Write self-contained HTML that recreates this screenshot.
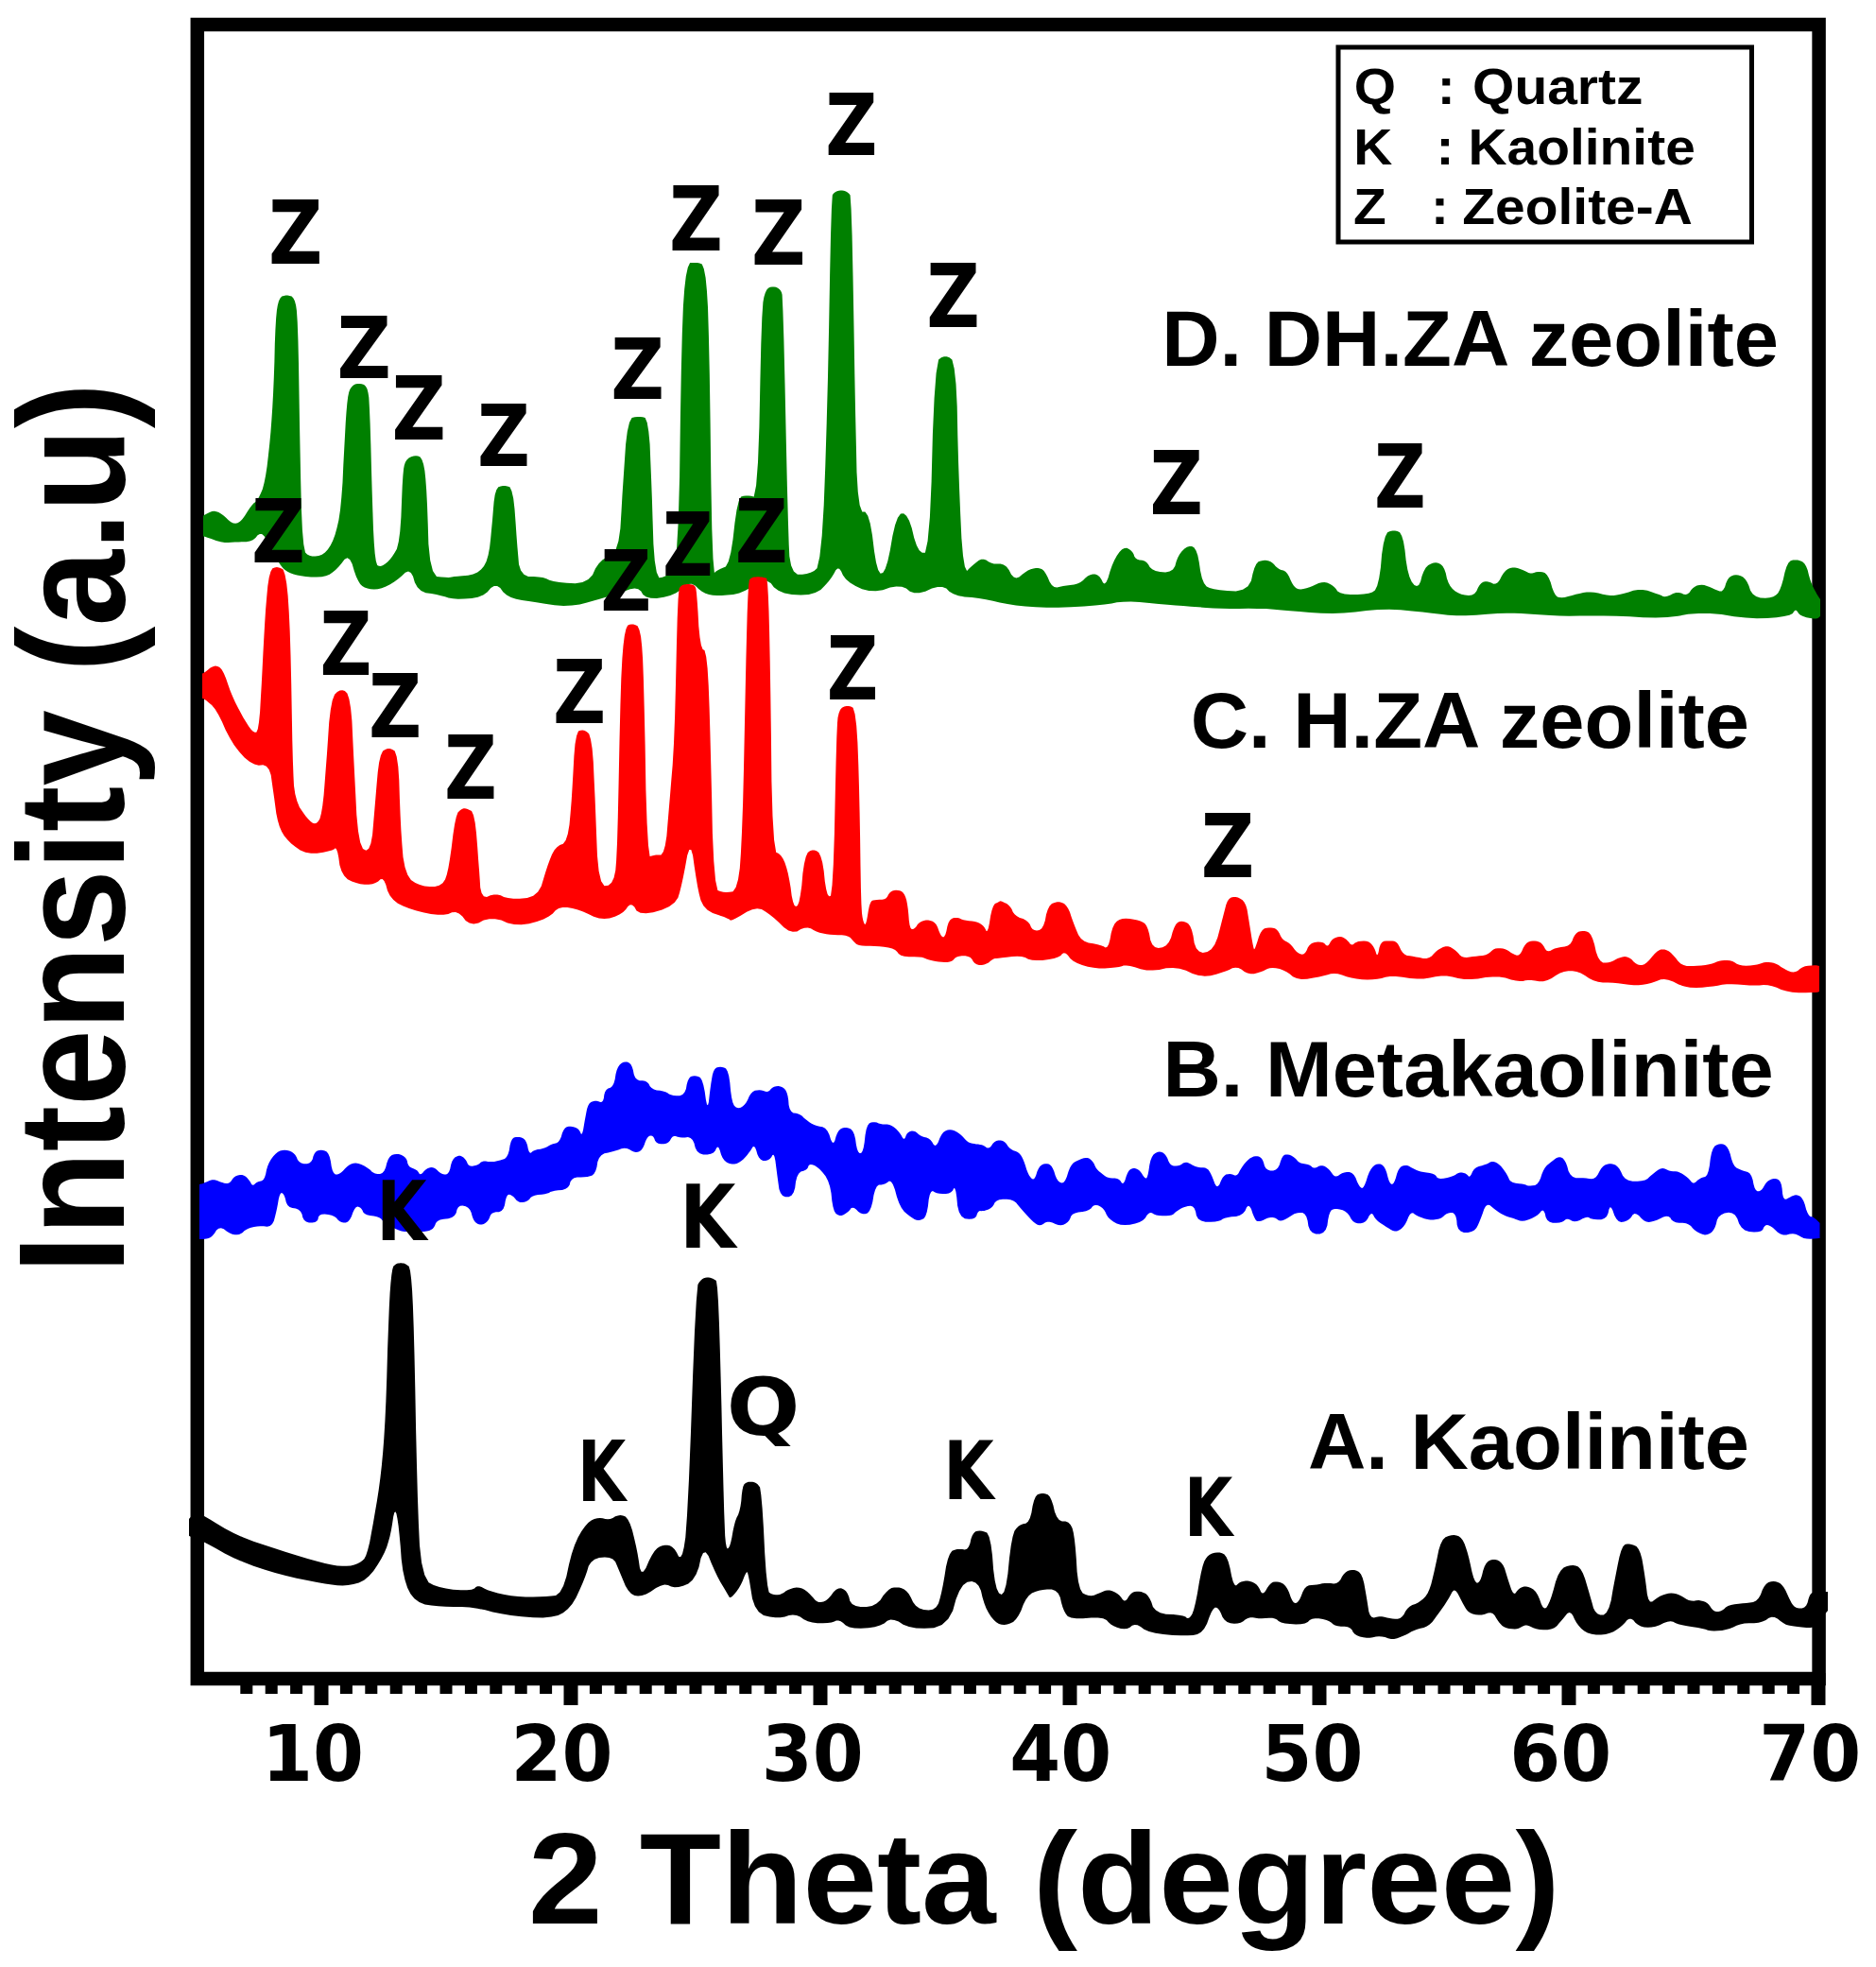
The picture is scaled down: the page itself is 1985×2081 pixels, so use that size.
<!DOCTYPE html>
<html><head><meta charset="utf-8"><title>XRD patterns</title><style>
html,body{margin:0;padding:0;background:#fff;}
svg{display:block;}
.ls{font-family:"Liberation Sans",Arial,sans-serif;font-weight:bold;}
.dv{font-family:"DejaVu Sans",sans-serif;font-weight:bold;}
</style></head><body>
<svg xmlns="http://www.w3.org/2000/svg" width="1985" height="2081" viewBox="0 0 1985 2081">
<rect width="1985" height="2081" fill="#fff"/>
<g fill="#000">
<rect x="254.3" y="1770" width="13" height="22"/>
<rect x="280.7" y="1770" width="13" height="22"/>
<rect x="307.1" y="1770" width="13" height="22"/>
<rect x="359.9" y="1770" width="13" height="22"/>
<rect x="386.3" y="1770" width="13" height="22"/>
<rect x="412.7" y="1770" width="13" height="22"/>
<rect x="439.1" y="1770" width="13" height="22"/>
<rect x="465.5" y="1770" width="13" height="22"/>
<rect x="491.9" y="1770" width="13" height="22"/>
<rect x="518.3" y="1770" width="13" height="22"/>
<rect x="544.7" y="1770" width="13" height="22"/>
<rect x="571.1" y="1770" width="13" height="22"/>
<rect x="623.9" y="1770" width="13" height="22"/>
<rect x="650.3" y="1770" width="13" height="22"/>
<rect x="676.7" y="1770" width="13" height="22"/>
<rect x="703.1" y="1770" width="13" height="22"/>
<rect x="729.5" y="1770" width="13" height="22"/>
<rect x="755.9" y="1770" width="13" height="22"/>
<rect x="782.3" y="1770" width="13" height="22"/>
<rect x="808.7" y="1770" width="13" height="22"/>
<rect x="835.1" y="1770" width="13" height="22"/>
<rect x="887.9" y="1770" width="13" height="22"/>
<rect x="914.3" y="1770" width="13" height="22"/>
<rect x="940.7" y="1770" width="13" height="22"/>
<rect x="967.1" y="1770" width="13" height="22"/>
<rect x="993.5" y="1770" width="13" height="22"/>
<rect x="1019.9" y="1770" width="13" height="22"/>
<rect x="1046.3" y="1770" width="13" height="22"/>
<rect x="1072.7" y="1770" width="13" height="22"/>
<rect x="1099.1" y="1770" width="13" height="22"/>
<rect x="1151.9" y="1770" width="13" height="22"/>
<rect x="1178.3" y="1770" width="13" height="22"/>
<rect x="1204.7" y="1770" width="13" height="22"/>
<rect x="1231.1" y="1770" width="13" height="22"/>
<rect x="1257.5" y="1770" width="13" height="22"/>
<rect x="1283.9" y="1770" width="13" height="22"/>
<rect x="1310.3" y="1770" width="13" height="22"/>
<rect x="1336.7" y="1770" width="13" height="22"/>
<rect x="1363.1" y="1770" width="13" height="22"/>
<rect x="1415.9" y="1770" width="13" height="22"/>
<rect x="1442.3" y="1770" width="13" height="22"/>
<rect x="1468.7" y="1770" width="13" height="22"/>
<rect x="1495.1" y="1770" width="13" height="22"/>
<rect x="1521.5" y="1770" width="13" height="22"/>
<rect x="1547.9" y="1770" width="13" height="22"/>
<rect x="1574.3" y="1770" width="13" height="22"/>
<rect x="1600.7" y="1770" width="13" height="22"/>
<rect x="1627.1" y="1770" width="13" height="22"/>
<rect x="1679.9" y="1770" width="13" height="22"/>
<rect x="1706.3" y="1770" width="13" height="22"/>
<rect x="1732.7" y="1770" width="13" height="22"/>
<rect x="1759.1" y="1770" width="13" height="22"/>
<rect x="1785.5" y="1770" width="13" height="22"/>
<rect x="1811.9" y="1770" width="13" height="22"/>
<rect x="1838.3" y="1770" width="13" height="22"/>
<rect x="1864.7" y="1770" width="13" height="22"/>
<rect x="1891.1" y="1770" width="13" height="22"/>
<rect x="332.5" y="1770" width="15" height="34"/>
<rect x="596.5" y="1770" width="15" height="34"/>
<rect x="860.5" y="1770" width="15" height="34"/>
<rect x="1124.5" y="1770" width="15" height="34"/>
<rect x="1388.5" y="1770" width="15" height="34"/>
<rect x="1652.5" y="1770" width="15" height="34"/>
<rect x="1916.5" y="1770" width="15" height="34"/>
</g>
<rect x="208.8" y="26" width="1715.8" height="1750" fill="none" stroke="#000" stroke-width="14.5"/>
<g id="curves">
<path d="M200.0,1607.0 L200.4,1606.6 L201.1,1605.7 L202.2,1604.4 L203.8,1602.6 L205.2,1601.4 L206.8,1600.8 L208.2,1600.8 L209.8,1601.2 L211.1,1601.7 L212.4,1602.2 L213.5,1602.6 L214.4,1603.1 L217.4,1604.7 L222.2,1607.6 L229.1,1611.7 L237.8,1617.0 L247.3,1622.0 L257.4,1626.5 L268.2,1630.7 L279.6,1634.6 L291.1,1638.3 L302.5,1641.9 L313.9,1645.4 L325.4,1648.9 L335.4,1651.7 L343.9,1653.9 L351.1,1655.4 L356.8,1656.4 L362.1,1656.8 L366.8,1656.8 L371.1,1656.4 L374.9,1655.4 L378.2,1654.2 L381.1,1652.8 L383.5,1651.1 L385.4,1649.2 L387.3,1645.4 L389.2,1639.5 L391.2,1631.6 L393.0,1621.6 L394.9,1611.2 L396.8,1600.1 L398.8,1588.5 L400.7,1576.3 L402.4,1563.5 L403.9,1550.2 L405.2,1536.2 L406.3,1521.8 L407.4,1503.6 L408.4,1481.9 L409.3,1456.5 L410.1,1427.6 L411.0,1403.2 L411.8,1383.3 L412.6,1368.1 L413.4,1357.4 L414.3,1349.1 L415.2,1343.2 L416.2,1339.8 L417.3,1338.7 L418.5,1337.8 L419.7,1337.1 L421.0,1336.6 L422.2,1336.4 L423.5,1336.2 L424.8,1336.2 L426.0,1336.4 L427.2,1336.6 L428.5,1337.1 L429.8,1337.8 L431.2,1338.7 L432.7,1339.8 L434.0,1344.6 L435.1,1353.1 L436.1,1365.4 L436.9,1381.4 L437.7,1404.1 L438.5,1433.4 L439.3,1469.5 L440.1,1512.2 L441.0,1550.0 L441.9,1583.2 L442.9,1611.5 L444.0,1635.0 L446.1,1653.2 L449.3,1666.3 L453.6,1674.2 L458.9,1676.9 L465.0,1679.0 L471.8,1680.6 L479.3,1681.7 L487.6,1682.2 L494.1,1682.2 L499.0,1681.7 L502.1,1680.6 L503.5,1679.0 L505.2,1678.2 L507.3,1678.2 L509.6,1679.0 L512.3,1680.6 L516.0,1682.2 L520.8,1683.8 L526.7,1685.4 L533.7,1687.0 L540.9,1688.2 L548.4,1689.0 L556.1,1689.4 L564.1,1689.4 L571.3,1689.3 L577.7,1689.0 L583.3,1688.6 L588.1,1688.1 L592.4,1684.5 L596.1,1677.8 L599.3,1668.1 L602.0,1655.2 L604.9,1644.0 L608.1,1634.4 L611.6,1626.4 L615.3,1620.0 L618.9,1614.9 L622.4,1611.0 L625.7,1608.4 L628.9,1607.1 L632.0,1606.3 L634.9,1606.0 L637.7,1606.3 L640.4,1607.1 L643.1,1607.3 L645.7,1606.9 L648.4,1605.9 L651.1,1604.3 L653.8,1603.4 L656.4,1603.1 L659.1,1603.5 L661.8,1604.5 L664.3,1607.4 L666.7,1612.2 L669.0,1618.9 L671.1,1627.5 L673.0,1635.8 L674.6,1643.8 L675.9,1651.5 L677.0,1659.0 L678.6,1662.7 L680.7,1662.7 L683.4,1659.0 L686.6,1651.5 L689.7,1645.5 L692.6,1641.0 L695.4,1637.9 L698.1,1636.3 L700.8,1635.2 L703.4,1634.7 L706.1,1634.7 L708.8,1635.2 L711.3,1636.7 L713.7,1639.1 L716.0,1642.4 L718.1,1646.7 L720.1,1647.2 L722.0,1644.0 L723.7,1637.1 L725.3,1626.4 L727.0,1602.9 L728.9,1566.6 L730.9,1517.5 L733.1,1455.6 L735.0,1408.5 L736.8,1376.4 L738.4,1359.1 L739.9,1356.6 L741.4,1354.7 L743.0,1353.2 L744.7,1352.2 L746.4,1351.8 L748.1,1351.5 L749.8,1351.5 L751.3,1351.8 L752.8,1352.2 L754.2,1352.8 L755.5,1353.5 L756.8,1354.2 L757.9,1355.1 L759.0,1362.8 L760.0,1377.4 L760.9,1398.9 L761.8,1427.4 L762.6,1456.8 L763.4,1487.3 L764.1,1518.8 L764.9,1551.2 L765.6,1578.1 L766.2,1599.4 L766.8,1615.0 L767.2,1625.0 L767.9,1632.2 L768.8,1636.8 L769.8,1638.5 L771.0,1637.5 L772.2,1635.2 L773.3,1631.4 L774.4,1626.4 L775.5,1620.0 L776.7,1614.4 L778.0,1609.6 L779.5,1605.6 L781.1,1602.4 L782.4,1598.4 L783.5,1593.6 L784.3,1588.0 L784.8,1581.6 L785.5,1576.6 L786.3,1572.8 L787.3,1570.5 L788.3,1569.5 L789.5,1568.7 L790.7,1568.2 L791.9,1567.8 L793.2,1567.7 L794.6,1567.7 L796.0,1567.8 L797.4,1568.1 L798.8,1568.4 L800.2,1569.2 L801.6,1570.3 L802.8,1571.7 L804.1,1573.5 L805.3,1581.5 L806.6,1595.8 L807.9,1616.3 L809.2,1642.9 L810.6,1663.2 L812.1,1677.1 L813.6,1684.6 L815.3,1685.7 L817.0,1686.5 L818.9,1687.0 L820.9,1687.3 L823.0,1687.3 L825.1,1686.9 L827.3,1686.1 L829.4,1684.9 L831.5,1683.3 L833.9,1682.0 L836.6,1680.9 L839.5,1680.1 L842.7,1679.5 L845.8,1679.7 L848.7,1680.5 L851.5,1681.9 L854.2,1684.1 L856.6,1686.2 L858.7,1688.4 L860.6,1690.5 L862.2,1692.6 L864.1,1694.1 L866.2,1694.9 L868.6,1695.0 L871.3,1694.5 L874.0,1693.2 L876.6,1691.0 L879.3,1688.1 L882.0,1684.3 L884.7,1681.8 L887.3,1680.4 L890.0,1680.3 L892.7,1681.4 L895.0,1683.3 L896.8,1685.9 L898.3,1689.4 L899.3,1693.7 L901.7,1696.9 L905.5,1699.0 L910.5,1700.1 L917.0,1700.1 L922.6,1698.9 L927.4,1696.5 L931.4,1692.9 L934.6,1688.1 L937.7,1684.4 L940.6,1681.7 L943.4,1680.1 L946.0,1679.5 L948.7,1679.4 L951.3,1679.6 L954.0,1680.3 L956.7,1681.4 L959.2,1683.4 L961.6,1686.3 L963.9,1690.2 L966.1,1695.0 L969.0,1698.7 L972.8,1701.4 L977.3,1703.0 L982.6,1703.6 L987.0,1702.7 L990.5,1700.3 L993.0,1696.4 L994.6,1691.0 L996.2,1684.5 L997.8,1676.7 L999.4,1667.8 L1001.0,1657.6 L1002.9,1649.8 L1005.0,1644.2 L1007.4,1640.8 L1010.1,1639.8 L1012.8,1639.1 L1015.4,1638.9 L1018.1,1639.0 L1020.8,1639.5 L1023.1,1638.7 L1024.9,1636.6 L1026.4,1633.1 L1027.4,1628.3 L1028.8,1624.6 L1030.4,1621.9 L1032.2,1620.3 L1034.4,1619.7 L1036.7,1619.6 L1039.1,1619.8 L1041.6,1620.5 L1044.3,1621.6 L1046.6,1626.1 L1048.5,1634.2 L1050.0,1645.7 L1051.1,1660.6 L1052.7,1672.3 L1054.6,1680.6 L1057.0,1685.5 L1059.8,1687.1 L1062.3,1684.2 L1064.5,1676.8 L1066.4,1664.9 L1068.0,1648.6 L1069.7,1635.6 L1071.5,1626.0 L1073.4,1619.8 L1075.4,1617.0 L1077.6,1614.8 L1080.0,1613.2 L1082.6,1612.2 L1085.4,1611.8 L1087.8,1609.7 L1089.8,1605.9 L1091.4,1600.4 L1092.6,1593.2 L1094.1,1587.6 L1095.8,1583.6 L1097.7,1581.2 L1099.9,1580.4 L1102.1,1580.0 L1104.3,1580.0 L1106.5,1580.4 L1108.7,1581.2 L1110.8,1583.5 L1112.6,1587.3 L1114.4,1592.6 L1116.0,1599.4 L1118.1,1604.5 L1120.7,1607.9 L1123.8,1609.6 L1127.4,1609.6 L1130.4,1610.8 L1132.8,1613.2 L1134.6,1616.8 L1135.8,1621.5 L1136.9,1628.5 L1137.9,1637.7 L1138.8,1649.1 L1139.6,1662.7 L1141.0,1673.3 L1143.0,1680.9 L1145.6,1685.5 L1148.7,1687.1 L1151.8,1688.0 L1154.8,1688.2 L1157.7,1687.7 L1160.5,1686.5 L1163.1,1685.4 L1165.5,1684.4 L1167.7,1683.5 L1169.7,1682.7 L1171.9,1682.4 L1174.3,1682.6 L1176.9,1683.3 L1179.7,1684.5 L1182.2,1686.0 L1184.4,1687.8 L1186.3,1689.9 L1187.9,1692.3 L1189.5,1693.4 L1191.1,1693.2 L1192.7,1691.7 L1194.3,1688.9 L1196.1,1686.7 L1198.1,1685.1 L1200.3,1684.1 L1202.7,1683.7 L1205.1,1683.7 L1207.5,1684.1 L1209.9,1684.9 L1212.3,1686.1 L1214.5,1688.2 L1216.5,1691.2 L1218.3,1695.1 L1219.9,1699.9 L1223.0,1703.6 L1227.6,1706.2 L1233.7,1707.7 L1241.3,1708.1 L1247.3,1708.7 L1251.7,1709.5 L1254.5,1710.5 L1255.7,1711.7 L1257.0,1712.0 L1258.4,1711.4 L1259.9,1709.9 L1261.5,1707.5 L1263.2,1702.7 L1265.0,1695.5 L1266.9,1685.9 L1268.9,1673.9 L1270.8,1664.2 L1272.6,1656.8 L1274.3,1651.7 L1275.9,1648.9 L1277.8,1646.6 L1280.0,1644.8 L1282.5,1643.5 L1285.3,1642.7 L1288.0,1642.4 L1290.6,1642.6 L1293.1,1643.3 L1295.5,1644.5 L1297.7,1647.5 L1299.7,1652.3 L1301.5,1658.9 L1303.1,1667.3 L1304.7,1673.2 L1306.3,1676.6 L1307.9,1677.5 L1309.5,1675.9 L1311.3,1674.6 L1313.3,1673.6 L1315.5,1672.9 L1317.9,1672.5 L1320.3,1672.5 L1322.7,1672.9 L1325.1,1673.7 L1327.5,1674.9 L1329.6,1676.5 L1331.4,1678.7 L1332.9,1681.2 L1334.2,1684.2 L1335.6,1685.6 L1337.2,1685.3 L1339.0,1683.3 L1341.0,1679.8 L1343.0,1677.0 L1345.0,1675.0 L1347.0,1673.8 L1349.0,1673.4 L1351.1,1673.4 L1353.3,1673.8 L1355.6,1674.6 L1358.0,1675.8 L1360.2,1677.9 L1362.2,1680.9 L1364.0,1684.8 L1365.6,1689.5 L1367.2,1693.0 L1368.8,1695.2 L1370.4,1696.1 L1372.0,1695.7 L1373.6,1694.3 L1375.2,1691.9 L1376.8,1688.5 L1378.4,1684.2 L1380.3,1680.8 L1382.5,1678.5 L1385.0,1677.3 L1387.8,1677.1 L1390.6,1676.8 L1393.4,1676.4 L1396.2,1675.9 L1399.0,1675.3 L1401.9,1675.0 L1404.9,1674.9 L1408.0,1675.0 L1411.2,1675.4 L1414.0,1674.9 L1416.4,1673.5 L1418.4,1671.2 L1420.0,1668.0 L1421.8,1665.4 L1423.8,1663.4 L1426.0,1662.0 L1428.3,1661.2 L1430.7,1660.9 L1433.1,1661.1 L1435.5,1661.8 L1437.9,1663.0 L1440.0,1665.6 L1441.8,1669.6 L1443.3,1675.0 L1444.5,1681.7 L1445.6,1688.1 L1446.6,1694.1 L1447.5,1699.7 L1448.3,1704.9 L1449.6,1708.6 L1451.4,1710.8 L1453.7,1711.5 L1456.5,1710.7 L1459.3,1710.3 L1462.1,1710.3 L1464.9,1710.7 L1467.7,1711.5 L1470.5,1712.1 L1473.3,1712.5 L1476.1,1712.7 L1478.9,1712.7 L1481.4,1711.9 L1483.6,1710.3 L1485.5,1707.9 L1487.1,1704.7 L1489.1,1702.0 L1491.5,1699.8 L1494.3,1698.1 L1497.5,1696.9 L1500.5,1695.4 L1503.3,1693.6 L1505.9,1691.5 L1508.3,1689.1 L1510.5,1685.7 L1512.5,1681.3 L1514.3,1675.9 L1515.9,1669.6 L1517.5,1662.8 L1519.1,1655.6 L1520.7,1648.0 L1522.3,1640.0 L1524.3,1633.7 L1526.7,1629.1 L1529.5,1626.2 L1532.7,1625.0 L1535.7,1624.3 L1538.5,1624.1 L1541.1,1624.4 L1543.5,1625.2 L1545.7,1626.9 L1547.7,1629.5 L1549.5,1633.0 L1551.1,1637.4 L1552.7,1642.6 L1554.3,1648.6 L1555.9,1655.4 L1557.5,1663.0 L1559.1,1668.7 L1560.7,1672.5 L1562.3,1674.4 L1563.9,1674.4 L1565.4,1673.1 L1566.8,1670.5 L1568.1,1666.6 L1569.3,1661.4 L1570.8,1657.2 L1572.6,1654.0 L1574.7,1651.8 L1577.1,1650.6 L1579.5,1650.0 L1581.9,1650.0 L1584.3,1650.6 L1586.7,1651.8 L1588.8,1653.7 L1590.6,1656.3 L1592.1,1659.6 L1593.3,1663.6 L1594.6,1667.8 L1596.0,1672.2 L1597.5,1676.8 L1599.1,1681.5 L1600.6,1684.6 L1602.1,1685.9 L1603.6,1685.5 L1604.9,1683.5 L1606.5,1681.7 L1608.3,1680.3 L1610.3,1679.3 L1612.5,1678.6 L1614.8,1678.5 L1617.2,1678.9 L1619.8,1679.9 L1622.4,1681.5 L1624.9,1684.0 L1627.1,1687.4 L1629.0,1691.7 L1630.8,1697.0 L1632.5,1700.3 L1634.3,1701.6 L1636.1,1700.9 L1637.8,1698.3 L1639.7,1694.2 L1641.7,1688.7 L1643.8,1681.8 L1646.0,1673.4 L1648.5,1666.8 L1651.4,1661.8 L1654.5,1658.6 L1658.0,1657.1 L1661.3,1656.2 L1664.4,1656.0 L1667.3,1656.5 L1669.9,1657.5 L1672.5,1660.2 L1674.9,1664.5 L1677.2,1670.4 L1679.4,1677.9 L1681.4,1684.7 L1683.1,1690.8 L1684.7,1696.3 L1686.0,1701.2 L1687.9,1704.8 L1690.3,1707.2 L1693.2,1708.4 L1696.8,1708.4 L1699.8,1705.9 L1702.5,1700.8 L1704.7,1693.2 L1706.4,1683.1 L1708.2,1673.5 L1710.0,1664.2 L1711.7,1655.4 L1713.5,1647.1 L1715.3,1640.7 L1717.3,1636.3 L1719.4,1633.9 L1721.6,1633.4 L1723.9,1633.4 L1726.3,1633.9 L1728.8,1634.7 L1731.5,1636.1 L1733.8,1638.9 L1735.7,1643.3 L1737.4,1649.2 L1738.7,1656.8 L1739.9,1664.2 L1741.0,1671.7 L1742.0,1679.2 L1742.9,1686.7 L1744.2,1691.7 L1746.0,1694.4 L1748.2,1694.6 L1750.8,1692.4 L1753.6,1690.5 L1756.4,1688.8 L1759.4,1687.4 L1762.5,1686.4 L1765.5,1685.7 L1768.3,1685.5 L1771.1,1685.7 L1773.7,1686.3 L1776.4,1687.2 L1779.0,1688.4 L1781.6,1689.9 L1784.3,1691.7 L1786.9,1692.9 L1789.5,1693.5 L1792.2,1693.7 L1794.8,1693.2 L1797.4,1693.1 L1799.8,1693.4 L1802.1,1693.9 L1804.3,1694.8 L1806.3,1696.0 L1808.0,1697.5 L1809.5,1699.4 L1810.8,1701.6 L1812.4,1703.2 L1814.1,1704.4 L1816.1,1704.9 L1818.3,1704.9 L1820.4,1704.5 L1822.4,1703.6 L1824.3,1702.3 L1826.0,1700.5 L1828.5,1699.1 L1831.6,1698.0 L1835.3,1697.2 L1839.7,1696.8 L1843.9,1696.3 L1847.8,1695.9 L1851.5,1695.4 L1855.0,1695.0 L1858.1,1693.4 L1860.8,1690.8 L1863.0,1687.1 L1864.7,1682.2 L1866.7,1678.5 L1868.9,1675.7 L1871.3,1674.0 L1874.0,1673.3 L1876.5,1673.1 L1878.9,1673.3 L1881.2,1674.0 L1883.4,1675.0 L1885.5,1676.9 L1887.5,1679.4 L1889.4,1682.7 L1891.1,1686.6 L1892.8,1690.2 L1894.3,1693.3 L1895.7,1695.9 L1897.1,1698.1 L1898.8,1699.8 L1901.0,1700.9 L1903.6,1701.4 L1906.7,1701.4 L1909.2,1700.4 L1911.2,1698.4 L1912.6,1695.4 L1913.6,1691.5 L1914.7,1688.4 L1916.0,1686.2 L1917.6,1684.9 L1919.3,1684.4 L1921.4,1684.1 L1923.8,1683.9 L1926.5,1683.9 L1929.5,1683.9 L1931.8,1684.0 L1933.2,1684.0 L1934.0,1684.0 L1934.0,1704.0 L1933.4,1704.7 L1932.3,1706.1 L1930.6,1708.1 L1928.4,1710.9 L1926.3,1713.4 L1924.4,1715.8 L1922.7,1718.0 L1921.1,1720.0 L1918.7,1721.4 L1915.5,1722.1 L1911.4,1722.1 L1906.4,1721.6 L1902.1,1721.0 L1898.3,1720.5 L1895.1,1720.1 L1892.4,1719.6 L1889.7,1718.7 L1886.8,1717.1 L1883.9,1715.0 L1880.8,1712.4 L1877.7,1710.9 L1874.7,1710.7 L1871.6,1711.7 L1868.5,1713.9 L1864.9,1715.5 L1860.7,1716.7 L1856.0,1717.2 L1850.7,1717.2 L1845.8,1717.6 L1841.4,1718.5 L1837.5,1719.8 L1834.0,1721.6 L1830.2,1723.0 L1826.3,1724.1 L1822.1,1724.9 L1817.7,1725.3 L1813.7,1725.4 L1810.2,1725.2 L1807.1,1724.7 L1804.5,1723.8 L1801.0,1722.9 L1796.5,1722.1 L1791.3,1721.2 L1785.1,1720.3 L1780.0,1719.3 L1775.8,1718.2 L1772.6,1717.0 L1770.4,1715.7 L1767.6,1715.2 L1764.3,1715.7 L1760.5,1717.0 L1756.1,1719.2 L1751.8,1720.7 L1747.6,1721.6 L1743.6,1721.8 L1739.6,1721.4 L1736.1,1720.4 L1733.0,1718.8 L1730.4,1716.8 L1728.2,1714.1 L1726.0,1712.8 L1723.8,1712.8 L1721.6,1714.1 L1719.4,1716.8 L1716.9,1719.3 L1714.0,1721.7 L1710.8,1724.0 L1707.3,1726.2 L1703.3,1727.8 L1698.9,1729.0 L1694.1,1729.5 L1688.8,1729.5 L1684.1,1728.8 L1679.9,1727.5 L1676.3,1725.6 L1673.2,1722.9 L1670.5,1720.0 L1668.1,1716.7 L1666.0,1713.0 L1664.2,1709.1 L1662.4,1706.7 L1660.4,1706.1 L1658.3,1707.1 L1656.1,1709.7 L1653.9,1712.4 L1651.7,1715.0 L1649.5,1717.6 L1647.3,1720.3 L1644.6,1722.2 L1641.2,1723.5 L1637.4,1724.2 L1633.0,1724.2 L1629.0,1723.9 L1625.5,1723.2 L1622.4,1722.3 L1619.8,1720.9 L1617.5,1720.1 L1615.5,1719.6 L1613.8,1719.6 L1612.5,1720.1 L1611.2,1720.6 L1609.8,1721.2 L1608.4,1721.9 L1606.9,1722.7 L1605.0,1723.2 L1602.7,1723.4 L1599.9,1723.3 L1596.7,1722.9 L1593.9,1722.2 L1591.5,1721.2 L1589.5,1719.9 L1587.9,1718.3 L1586.3,1716.4 L1584.7,1714.2 L1583.1,1711.7 L1581.5,1708.9 L1579.5,1707.1 L1577.1,1706.3 L1574.3,1706.5 L1571.1,1707.7 L1567.9,1708.4 L1564.7,1708.6 L1561.5,1708.3 L1558.3,1707.5 L1555.5,1706.2 L1553.1,1704.4 L1551.1,1702.1 L1549.5,1699.3 L1547.8,1696.2 L1546.0,1692.8 L1544.1,1689.1 L1542.1,1685.2 L1540.2,1683.0 L1538.4,1682.6 L1536.7,1684.0 L1535.1,1687.1 L1533.2,1690.5 L1531.0,1694.1 L1528.5,1697.9 L1525.7,1701.9 L1523.0,1705.7 L1520.4,1709.3 L1517.9,1712.7 L1515.5,1715.9 L1512.8,1718.5 L1509.8,1720.5 L1506.5,1721.9 L1502.9,1722.7 L1499.5,1723.7 L1496.3,1724.9 L1493.3,1726.3 L1490.5,1727.9 L1487.6,1729.4 L1484.6,1730.8 L1481.5,1732.1 L1478.3,1733.3 L1475.1,1733.9 L1471.9,1733.9 L1468.7,1733.3 L1465.5,1732.1 L1462.3,1731.4 L1459.1,1731.2 L1455.9,1731.5 L1452.7,1732.3 L1449.4,1732.7 L1446.0,1732.7 L1442.5,1732.3 L1438.9,1731.5 L1435.9,1730.3 L1433.5,1728.7 L1431.7,1726.7 L1430.5,1724.3 L1428.6,1722.5 L1426.0,1721.3 L1422.7,1720.7 L1418.8,1720.7 L1415.4,1720.3 L1412.6,1719.5 L1410.4,1718.3 L1408.8,1716.7 L1406.5,1715.3 L1403.5,1714.1 L1399.8,1713.1 L1395.4,1712.3 L1391.6,1712.2 L1388.4,1712.8 L1385.8,1714.1 L1383.8,1716.1 L1380.7,1717.5 L1376.5,1718.3 L1371.2,1718.5 L1364.8,1718.1 L1359.6,1717.4 L1355.6,1716.4 L1352.8,1715.1 L1351.2,1713.5 L1349.0,1712.4 L1346.2,1711.8 L1342.8,1711.7 L1338.8,1712.1 L1335.1,1712.3 L1331.7,1712.2 L1328.6,1711.8 L1325.7,1711.2 L1323.0,1711.2 L1320.4,1711.9 L1317.9,1713.3 L1315.5,1715.3 L1312.7,1716.7 L1309.5,1717.5 L1305.9,1717.7 L1301.9,1717.3 L1298.5,1716.0 L1295.7,1713.8 L1293.5,1710.7 L1291.9,1706.7 L1290.3,1703.7 L1288.7,1701.7 L1287.1,1700.7 L1285.5,1700.7 L1283.7,1702.4 L1281.7,1705.8 L1279.5,1710.9 L1277.1,1717.7 L1274.2,1723.0 L1270.8,1726.8 L1266.9,1729.1 L1262.5,1729.9 L1256.7,1730.3 L1249.5,1730.3 L1240.9,1729.9 L1230.9,1729.1 L1222.5,1727.8 L1215.7,1726.0 L1210.5,1723.7 L1206.9,1720.9 L1203.6,1719.3 L1200.6,1718.9 L1197.9,1719.7 L1195.5,1721.7 L1192.7,1722.9 L1189.5,1723.3 L1185.9,1722.9 L1181.9,1721.7 L1178.4,1720.2 L1175.4,1718.4 L1172.9,1716.3 L1170.9,1713.9 L1167.2,1712.3 L1161.8,1711.5 L1154.7,1711.5 L1146.0,1712.3 L1138.9,1712.3 L1133.5,1711.5 L1129.8,1709.9 L1127.8,1707.5 L1126.0,1704.3 L1124.4,1700.3 L1123.0,1695.5 L1121.8,1689.9 L1119.7,1685.7 L1116.7,1682.9 L1112.8,1681.5 L1108.0,1681.5 L1103.5,1681.9 L1099.3,1682.7 L1095.4,1683.9 L1091.8,1685.5 L1088.5,1688.3 L1085.5,1692.3 L1082.8,1697.5 L1080.4,1703.9 L1077.8,1709.1 L1075.0,1713.1 L1072.0,1715.9 L1068.8,1717.5 L1065.7,1718.5 L1062.7,1718.9 L1059.8,1718.7 L1057.0,1717.9 L1054.2,1716.3 L1051.5,1713.8 L1048.7,1710.5 L1046.0,1706.3 L1043.5,1701.5 L1041.4,1695.9 L1039.5,1689.7 L1037.9,1682.7 L1035.5,1677.7 L1032.3,1674.4 L1028.3,1673.1 L1023.5,1673.7 L1019.1,1677.0 L1015.1,1683.2 L1011.5,1692.1 L1008.2,1703.9 L1003.3,1712.8 L996.6,1719.0 L988.2,1722.3 L978.1,1722.8 L969.3,1722.4 L961.8,1721.1 L955.7,1718.8 L950.8,1715.6 L946.4,1713.9 L942.4,1713.6 L938.8,1714.8 L935.6,1717.5 L931.2,1719.6 L925.6,1721.2 L918.8,1722.3 L910.8,1722.8 L904.1,1722.5 L898.8,1721.5 L894.8,1719.6 L892.1,1716.9 L889.6,1715.2 L887.2,1714.4 L884.9,1714.5 L882.8,1715.6 L879.7,1716.4 L875.7,1716.9 L870.8,1717.2 L864.9,1717.2 L859.6,1716.5 L854.8,1715.2 L850.5,1713.2 L846.7,1710.5 L842.9,1708.9 L838.9,1708.4 L834.7,1708.9 L830.5,1710.5 L825.7,1711.3 L820.3,1711.3 L814.5,1710.5 L808.0,1708.9 L802.8,1705.2 L798.8,1699.3 L796.0,1691.3 L794.4,1681.2 L793.1,1673.3 L792.0,1667.7 L791.2,1664.4 L790.7,1663.3 L789.9,1663.6 L788.8,1665.2 L787.5,1668.1 L785.9,1672.3 L784.0,1676.3 L781.9,1680.1 L779.5,1683.5 L776.8,1686.8 L774.7,1688.9 L773.0,1690.0 L771.9,1690.0 L771.3,1688.9 L770.0,1686.8 L768.1,1683.6 L765.6,1679.3 L762.4,1673.9 L759.2,1667.9 L756.0,1661.2 L752.8,1653.9 L749.6,1645.9 L746.7,1642.3 L744.0,1643.1 L741.6,1648.3 L739.5,1657.9 L736.6,1665.6 L732.8,1671.5 L728.3,1675.5 L722.9,1677.7 L718.1,1678.9 L713.8,1679.2 L710.1,1678.5 L706.9,1676.9 L703.2,1676.6 L698.9,1677.7 L694.1,1680.1 L688.7,1683.8 L683.8,1686.5 L679.2,1688.1 L675.1,1688.6 L671.4,1688.1 L667.9,1686.1 L664.7,1682.6 L661.8,1677.7 L659.1,1671.3 L656.7,1665.6 L654.6,1660.5 L652.7,1656.1 L651.1,1652.3 L648.4,1649.6 L644.7,1648.0 L639.9,1647.5 L634.0,1648.0 L629.2,1649.7 L625.5,1652.7 L622.8,1656.8 L621.2,1662.2 L619.1,1668.2 L616.4,1674.9 L613.2,1682.2 L609.5,1690.2 L605.4,1696.9 L600.8,1702.2 L595.9,1706.2 L590.5,1708.9 L583.4,1710.6 L574.6,1711.4 L564.1,1711.3 L551.8,1710.2 L540.6,1708.9 L530.5,1707.3 L521.4,1705.4 L513.4,1703.3 L505.2,1701.7 L496.9,1700.6 L488.5,1700.1 L479.8,1700.1 L471.6,1699.8 L463.9,1699.3 L456.5,1698.5 L449.6,1697.4 L443.6,1695.0 L438.5,1691.3 L434.4,1686.2 L431.1,1679.8 L428.5,1671.5 L426.3,1661.4 L424.7,1649.4 L423.7,1635.5 L422.6,1623.8 L421.6,1614.2 L420.5,1606.7 L419.4,1601.3 L418.3,1599.2 L417.3,1600.2 L416.2,1604.5 L415.1,1612.0 L413.9,1619.0 L412.5,1625.4 L410.9,1631.3 L409.2,1636.8 L406.8,1642.5 L403.6,1648.7 L399.7,1655.2 L395.2,1662.0 L390.3,1667.5 L385.2,1671.7 L379.7,1674.6 L374.0,1676.1 L368.3,1677.1 L362.5,1677.5 L356.8,1677.3 L351.1,1676.5 L343.9,1675.4 L335.4,1673.9 L325.4,1672.0 L313.9,1669.7 L302.5,1667.0 L291.1,1663.9 L279.6,1660.5 L268.2,1656.7 L257.4,1652.6 L247.3,1648.2 L237.8,1643.6 L229.1,1638.6 L222.2,1634.8 L217.4,1632.2 L214.4,1630.8 L213.5,1630.4 L212.4,1630.0 L211.1,1629.5 L209.8,1628.9 L208.2,1628.1 L206.8,1627.4 L205.2,1626.8 L203.8,1626.2 L202.2,1625.8 L201.1,1625.4 L200.4,1625.1 L200.0,1625.0 Z" fill="#000"/>
<path d="M211.0,1253.0 L211.3,1252.9 L211.8,1252.8 L212.6,1252.6 L213.6,1252.4 L215.1,1251.9 L216.9,1251.1 L219.1,1250.2 L221.7,1248.9 L224.3,1248.3 L227.0,1248.3 L229.8,1248.9 L232.6,1250.2 L235.1,1251.1 L237.3,1251.7 L239.2,1252.0 L240.8,1252.0 L242.3,1251.5 L243.7,1250.5 L245.0,1249.0 L246.2,1247.0 L247.7,1245.4 L249.5,1244.2 L251.6,1243.4 L254.0,1243.0 L256.2,1243.1 L258.2,1243.7 L260.0,1244.8 L261.6,1246.3 L263.0,1247.9 L264.2,1249.5 L265.2,1251.1 L266.0,1252.7 L266.9,1253.6 L267.9,1253.8 L269.0,1253.3 L270.2,1252.1 L271.6,1251.1 L273.2,1250.3 L275.0,1249.7 L277.0,1249.3 L278.7,1247.9 L280.1,1245.5 L281.2,1242.1 L282.0,1237.8 L283.2,1233.7 L284.8,1229.9 L286.8,1226.4 L289.2,1223.2 L291.6,1220.7 L294.0,1218.8 L296.4,1217.5 L298.8,1216.9 L301.2,1216.7 L303.6,1216.9 L306.0,1217.5 L308.4,1218.5 L310.5,1220.0 L312.3,1221.8 L313.8,1224.2 L314.9,1227.0 L316.6,1229.1 L318.8,1230.5 L321.5,1231.2 L324.7,1231.2 L327.3,1230.4 L329.3,1228.8 L330.7,1226.4 L331.5,1223.2 L332.6,1220.7 L334.0,1218.8 L335.7,1217.5 L337.7,1216.9 L339.7,1216.7 L341.7,1216.9 L343.7,1217.5 L345.7,1218.5 L347.4,1220.7 L348.8,1223.9 L349.9,1228.4 L350.7,1234.0 L351.8,1238.2 L353.2,1241.0 L354.9,1242.4 L356.9,1242.4 L358.9,1241.8 L360.9,1240.6 L362.9,1238.8 L364.9,1236.4 L367.0,1234.4 L369.2,1232.8 L371.5,1231.6 L373.9,1230.8 L376.5,1230.6 L379.3,1231.0 L382.3,1232.0 L385.5,1233.6 L388.2,1235.2 L390.4,1236.7 L392.1,1238.1 L393.3,1239.5 L394.9,1240.6 L396.9,1241.4 L399.3,1241.9 L402.1,1242.1 L404.5,1241.1 L406.5,1238.8 L408.1,1235.2 L409.3,1230.4 L410.8,1226.6 L412.6,1223.8 L414.7,1222.0 L417.1,1221.2 L419.5,1220.9 L421.9,1221.1 L424.3,1221.8 L426.7,1223.0 L428.6,1224.5 L430.0,1226.3 L430.9,1228.4 L431.3,1230.8 L432.2,1232.8 L433.6,1234.4 L435.5,1235.6 L437.9,1236.4 L439.9,1237.4 L441.5,1238.6 L442.7,1240.0 L443.5,1241.6 L444.5,1242.3 L445.7,1242.1 L447.1,1241.0 L448.7,1239.0 L450.4,1237.4 L452.2,1236.2 L454.1,1235.4 L456.1,1235.0 L458.1,1235.2 L460.1,1236.0 L462.1,1237.4 L464.1,1239.4 L466.1,1240.9 L468.1,1241.9 L470.1,1242.4 L472.1,1242.4 L473.8,1241.4 L475.2,1239.4 L476.3,1236.4 L477.1,1232.4 L478.2,1229.1 L479.6,1226.5 L481.3,1224.6 L483.3,1223.4 L485.2,1222.8 L487.0,1222.8 L488.7,1223.4 L490.4,1224.5 L491.8,1225.9 L493.0,1227.5 L494.0,1229.3 L494.8,1231.3 L496.0,1232.7 L497.6,1233.5 L499.6,1233.7 L502.0,1233.3 L504.1,1232.7 L505.9,1231.9 L507.4,1230.9 L508.6,1229.7 L510.1,1228.9 L511.9,1228.5 L514.0,1228.5 L516.4,1228.9 L518.7,1229.1 L520.9,1229.1 L523.0,1228.9 L525.0,1228.5 L527.1,1228.0 L529.3,1227.4 L531.6,1226.7 L534.0,1225.9 L536.0,1224.0 L537.6,1221.0 L538.8,1216.9 L539.6,1211.8 L540.7,1207.8 L542.1,1205.0 L543.8,1203.4 L545.8,1203.0 L547.8,1202.9 L549.8,1203.1 L551.8,1203.6 L553.8,1204.4 L555.5,1206.0 L556.9,1208.4 L558.0,1211.6 L558.8,1215.5 L559.7,1218.2 L560.7,1219.6 L561.8,1219.7 L563.0,1218.5 L564.6,1217.5 L566.6,1216.7 L569.0,1216.1 L571.8,1215.7 L574.4,1215.1 L576.8,1214.3 L579.0,1213.3 L581.0,1212.1 L583.0,1211.1 L585.0,1210.3 L587.0,1209.7 L589.0,1209.3 L590.8,1208.0 L592.4,1205.8 L593.8,1202.7 L594.9,1198.8 L596.3,1195.7 L597.9,1193.5 L599.7,1192.2 L601.7,1191.8 L603.7,1191.7 L605.7,1191.9 L607.7,1192.4 L609.7,1193.2 L611.4,1194.3 L612.8,1195.7 L613.9,1197.4 L614.7,1199.4 L615.5,1199.7 L616.3,1198.3 L617.1,1195.2 L617.9,1190.4 L618.7,1185.8 L619.5,1181.4 L620.3,1177.2 L621.1,1173.2 L622.2,1170.0 L623.6,1167.6 L625.3,1166.0 L627.3,1165.2 L629.3,1164.8 L631.3,1164.8 L633.3,1165.2 L635.3,1166.0 L636.9,1165.7 L638.1,1164.3 L638.9,1161.8 L639.3,1158.2 L640.2,1155.3 L641.6,1153.1 L643.5,1151.6 L645.9,1150.8 L647.9,1148.9 L649.5,1145.9 L650.7,1141.8 L651.5,1136.6 L652.6,1132.3 L654.0,1128.9 L655.7,1126.4 L657.7,1124.8 L659.7,1123.8 L661.7,1123.4 L663.7,1123.6 L665.7,1124.4 L667.4,1126.1 L668.8,1128.7 L669.9,1132.2 L670.7,1136.6 L672.1,1139.9 L674.1,1142.1 L676.7,1143.2 L679.9,1143.2 L682.6,1143.8 L684.8,1145.0 L686.5,1146.8 L687.7,1149.2 L689.5,1151.1 L691.9,1152.5 L694.9,1153.4 L698.5,1153.8 L701.6,1154.4 L704.2,1155.2 L706.3,1156.2 L707.9,1157.4 L710.0,1158.3 L712.6,1158.9 L715.7,1159.2 L719.3,1159.2 L722.2,1158.0 L724.4,1155.6 L725.9,1152.0 L726.7,1147.2 L727.8,1143.4 L729.2,1140.8 L730.9,1139.1 L732.9,1138.5 L734.9,1138.3 L736.9,1138.5 L738.9,1139.1 L740.9,1140.1 L742.7,1143.0 L744.3,1147.9 L745.7,1154.8 L746.9,1163.6 L748.0,1168.4 L749.0,1169.2 L749.9,1166.0 L750.7,1158.8 L751.5,1152.3 L752.3,1146.5 L753.1,1141.4 L753.9,1137.0 L755.0,1133.6 L756.4,1131.1 L758.1,1129.5 L760.1,1128.9 L762.1,1128.7 L764.1,1128.9 L766.1,1129.5 L768.1,1130.5 L769.8,1133.5 L771.2,1138.3 L772.3,1145.2 L773.1,1154.0 L774.1,1161.0 L775.3,1166.2 L776.7,1169.6 L778.4,1171.2 L780.1,1172.1 L781.9,1172.3 L783.8,1171.8 L785.8,1170.6 L787.7,1168.8 L789.5,1166.4 L791.2,1163.4 L792.8,1159.8 L794.6,1157.0 L796.6,1155.0 L798.8,1153.8 L801.2,1153.4 L803.5,1153.3 L805.7,1153.5 L807.8,1154.0 L809.8,1154.8 L811.6,1155.0 L813.2,1154.6 L814.6,1153.6 L815.8,1152.0 L817.3,1150.7 L819.1,1149.8 L821.2,1149.3 L823.6,1149.1 L825.8,1149.4 L827.8,1150.2 L829.6,1151.5 L831.2,1153.3 L832.5,1156.0 L833.5,1159.5 L834.2,1163.8 L834.6,1169.0 L835.6,1173.0 L837.2,1175.8 L839.4,1177.4 L842.2,1177.8 L844.7,1178.5 L846.9,1179.5 L848.8,1180.8 L850.4,1182.4 L852.2,1184.0 L854.2,1185.6 L856.4,1187.2 L858.8,1188.8 L861.4,1190.1 L864.2,1191.1 L867.2,1191.8 L870.3,1192.2 L873.1,1193.8 L875.5,1196.6 L877.5,1200.6 L879.1,1205.7 L880.6,1208.5 L882.0,1208.9 L883.3,1206.9 L884.5,1202.6 L885.9,1199.0 L887.5,1196.3 L889.3,1194.5 L891.3,1193.5 L893.4,1193.0 L895.6,1193.0 L897.9,1193.5 L900.3,1194.5 L902.3,1196.7 L903.9,1200.2 L905.1,1205.0 L905.9,1210.9 L906.9,1215.4 L908.1,1218.4 L909.5,1219.9 L911.1,1219.9 L912.5,1218.0 L913.7,1214.2 L914.7,1208.5 L915.5,1201.0 L916.6,1195.1 L918.0,1190.9 L919.7,1188.4 L921.7,1187.6 L923.7,1187.2 L925.7,1187.2 L927.7,1187.6 L929.7,1188.4 L931.8,1189.0 L934.0,1189.4 L936.3,1189.6 L938.7,1189.6 L941.1,1190.1 L943.5,1191.1 L945.9,1192.6 L948.3,1194.6 L950.4,1196.7 L952.2,1198.9 L953.7,1201.2 L954.9,1203.5 L956.0,1204.7 L957.0,1204.7 L957.9,1203.5 L958.7,1201.2 L959.8,1199.3 L961.2,1197.9 L962.9,1197.0 L964.9,1196.6 L966.8,1196.7 L968.6,1197.3 L970.3,1198.4 L971.9,1200.0 L973.7,1201.3 L975.7,1202.3 L977.9,1203.0 L980.3,1203.4 L982.5,1204.4 L984.5,1206.0 L986.3,1208.2 L987.9,1210.9 L989.5,1211.9 L991.1,1211.1 L992.7,1208.5 L994.3,1204.2 L996.1,1200.7 L998.1,1198.1 L1000.3,1196.4 L1002.7,1195.6 L1005.1,1195.3 L1007.5,1195.5 L1009.9,1196.2 L1012.3,1197.4 L1014.6,1198.9 L1016.8,1200.7 L1018.9,1202.8 L1020.9,1205.1 L1022.9,1207.0 L1024.9,1208.4 L1026.9,1209.3 L1028.9,1209.7 L1030.9,1210.1 L1032.9,1210.4 L1034.9,1210.6 L1037.0,1210.9 L1038.9,1211.3 L1040.7,1212.0 L1042.4,1213.0 L1044.0,1214.2 L1045.6,1214.5 L1047.2,1213.9 L1048.8,1212.4 L1050.4,1210.0 L1052.2,1208.2 L1054.2,1207.0 L1056.4,1206.4 L1058.8,1206.4 L1061.0,1207.0 L1063.0,1208.2 L1064.8,1210.0 L1066.4,1212.4 L1068.2,1214.4 L1070.2,1216.0 L1072.4,1217.2 L1074.8,1218.0 L1076.9,1219.1 L1078.7,1220.5 L1080.2,1222.2 L1081.4,1224.2 L1082.6,1226.7 L1083.8,1229.7 L1085.0,1233.2 L1086.2,1237.2 L1087.5,1240.6 L1088.9,1243.4 L1090.4,1245.6 L1092.0,1247.2 L1093.5,1247.4 L1094.9,1246.2 L1096.2,1243.6 L1097.4,1239.6 L1098.8,1236.4 L1100.4,1234.0 L1102.2,1232.4 L1104.2,1231.6 L1106.1,1231.2 L1107.9,1231.2 L1109.6,1231.6 L1111.2,1232.4 L1112.7,1234.0 L1114.1,1236.4 L1115.4,1239.6 L1116.6,1243.6 L1118.0,1246.8 L1119.6,1249.2 L1121.4,1250.8 L1123.4,1251.6 L1125.3,1250.9 L1127.1,1248.7 L1128.8,1245.0 L1130.4,1239.8 L1132.1,1235.6 L1133.9,1232.4 L1135.8,1230.2 L1137.8,1229.0 L1139.9,1227.9 L1142.1,1226.9 L1144.4,1226.0 L1146.7,1225.2 L1148.9,1224.9 L1150.9,1225.1 L1152.7,1225.8 L1154.3,1227.0 L1155.7,1228.4 L1156.9,1230.0 L1157.9,1231.8 L1158.7,1233.8 L1159.8,1235.7 L1161.2,1237.5 L1162.9,1239.2 L1164.9,1240.8 L1166.7,1242.2 L1168.3,1243.4 L1169.7,1244.4 L1170.9,1245.2 L1172.5,1245.8 L1174.5,1246.2 L1176.9,1246.4 L1179.7,1246.4 L1182.1,1246.9 L1184.1,1247.9 L1185.7,1249.4 L1186.9,1251.4 L1188.1,1251.9 L1189.3,1250.9 L1190.5,1248.4 L1191.7,1244.4 L1193.0,1241.2 L1194.4,1238.8 L1195.9,1237.2 L1197.5,1236.4 L1199.1,1236.0 L1200.7,1236.0 L1202.3,1236.4 L1203.9,1237.2 L1205.4,1238.3 L1206.8,1239.7 L1208.1,1241.4 L1209.3,1243.4 L1210.4,1244.9 L1211.4,1245.9 L1212.3,1246.4 L1213.1,1246.4 L1213.9,1245.0 L1214.7,1242.2 L1215.5,1238.0 L1216.3,1232.4 L1217.4,1227.8 L1218.8,1224.2 L1220.5,1221.6 L1222.5,1220.0 L1224.5,1219.0 L1226.5,1218.6 L1228.5,1218.8 L1230.5,1219.6 L1232.3,1221.0 L1233.9,1223.0 L1235.3,1225.6 L1236.5,1228.8 L1238.0,1231.2 L1239.8,1232.8 L1241.9,1233.6 L1244.3,1233.6 L1246.5,1233.3 L1248.5,1232.7 L1250.3,1231.8 L1251.9,1230.6 L1253.5,1229.9 L1255.1,1229.7 L1256.7,1230.0 L1258.3,1230.8 L1259.9,1231.6 L1261.5,1232.4 L1263.1,1233.2 L1264.7,1234.0 L1266.5,1234.6 L1268.5,1235.0 L1270.7,1235.2 L1273.1,1235.2 L1275.2,1235.6 L1277.0,1236.4 L1278.5,1237.6 L1279.7,1239.2 L1281.0,1241.5 L1282.4,1244.5 L1283.9,1248.2 L1285.5,1252.6 L1287.1,1254.9 L1288.7,1255.1 L1290.3,1253.2 L1291.9,1249.2 L1293.6,1246.1 L1295.4,1243.9 L1297.3,1242.6 L1299.3,1242.2 L1301.2,1242.1 L1303.0,1242.3 L1304.7,1242.8 L1306.3,1243.6 L1307.8,1243.6 L1309.2,1242.8 L1310.5,1241.2 L1311.7,1238.8 L1313.1,1236.4 L1314.7,1234.0 L1316.5,1231.6 L1318.5,1229.2 L1320.5,1227.2 L1322.5,1225.6 L1324.5,1224.4 L1326.5,1223.6 L1328.4,1223.2 L1330.2,1223.2 L1331.9,1223.6 L1333.6,1224.4 L1335.0,1225.8 L1336.2,1227.8 L1337.2,1230.4 L1338.0,1233.6 L1339.4,1236.0 L1341.4,1237.6 L1344.0,1238.4 L1347.2,1238.4 L1349.9,1237.4 L1352.1,1235.4 L1353.8,1232.4 L1355.0,1228.4 L1356.3,1225.3 L1357.7,1223.1 L1359.2,1221.8 L1360.8,1221.4 L1362.5,1221.4 L1364.3,1221.8 L1366.2,1222.6 L1368.2,1223.8 L1369.9,1225.0 L1371.3,1226.2 L1372.4,1227.4 L1373.2,1228.6 L1374.5,1229.6 L1376.3,1230.4 L1378.6,1231.0 L1381.4,1231.4 L1383.8,1232.0 L1385.8,1232.8 L1387.4,1233.8 L1388.6,1235.0 L1390.0,1235.6 L1391.6,1235.6 L1393.4,1235.0 L1395.4,1233.8 L1397.4,1233.2 L1399.4,1233.2 L1401.4,1233.8 L1403.4,1235.0 L1405.3,1236.5 L1407.1,1238.3 L1408.8,1240.4 L1410.4,1242.8 L1412.1,1244.2 L1413.9,1244.6 L1415.8,1244.0 L1417.8,1242.4 L1420.0,1241.2 L1422.4,1240.4 L1425.0,1240.0 L1427.8,1240.0 L1430.3,1241.0 L1432.5,1243.0 L1434.4,1246.0 L1435.9,1250.0 L1437.4,1253.1 L1438.8,1255.3 L1440.1,1256.6 L1441.3,1257.0 L1442.6,1256.0 L1444.0,1253.6 L1445.5,1249.8 L1447.1,1244.6 L1448.8,1240.3 L1450.6,1236.9 L1452.5,1234.4 L1454.5,1232.8 L1456.5,1231.8 L1458.5,1231.4 L1460.5,1231.6 L1462.5,1232.4 L1464.3,1234.2 L1465.9,1237.0 L1467.3,1240.8 L1468.5,1245.6 L1469.7,1249.2 L1470.9,1251.6 L1472.1,1252.8 L1473.3,1252.8 L1474.5,1251.7 L1475.7,1249.5 L1476.9,1246.2 L1478.1,1241.8 L1479.5,1238.3 L1481.1,1235.7 L1482.9,1234.0 L1484.9,1233.2 L1486.9,1232.9 L1488.9,1233.1 L1490.9,1233.8 L1492.9,1235.0 L1494.9,1236.1 L1496.9,1237.1 L1498.9,1238.0 L1500.9,1238.8 L1503.3,1239.5 L1506.1,1240.1 L1509.3,1240.6 L1512.9,1241.0 L1515.8,1241.7 L1518.0,1242.7 L1519.5,1244.0 L1520.3,1245.6 L1521.9,1246.6 L1524.3,1247.0 L1527.5,1246.8 L1531.5,1246.0 L1534.9,1245.1 L1537.7,1244.1 L1539.9,1243.0 L1541.5,1241.8 L1543.2,1241.0 L1545.0,1240.6 L1546.9,1240.6 L1548.9,1241.0 L1550.6,1241.6 L1552.0,1242.4 L1553.1,1243.4 L1553.9,1244.6 L1554.8,1244.8 L1555.8,1244.0 L1556.9,1242.2 L1558.1,1239.4 L1559.8,1237.1 L1562.0,1235.3 L1564.7,1234.0 L1567.9,1233.2 L1570.7,1232.3 L1573.1,1231.5 L1575.1,1230.5 L1576.7,1229.5 L1578.4,1229.0 L1580.2,1229.0 L1582.1,1229.5 L1584.1,1230.5 L1586.1,1232.0 L1588.1,1233.8 L1590.1,1236.2 L1592.1,1239.0 L1593.8,1241.6 L1595.2,1244.0 L1596.3,1246.2 L1597.1,1248.2 L1598.6,1249.8 L1600.8,1251.0 L1603.7,1251.8 L1607.3,1252.2 L1610.3,1252.6 L1612.7,1253.1 L1614.5,1253.6 L1615.8,1254.2 L1617.3,1254.5 L1619.3,1254.5 L1621.5,1254.3 L1624.2,1253.9 L1626.5,1252.4 L1628.4,1250.0 L1630.1,1246.6 L1631.4,1242.2 L1633.0,1238.5 L1634.7,1235.4 L1636.7,1233.0 L1638.9,1231.2 L1641.0,1229.6 L1643.0,1228.0 L1644.9,1226.6 L1646.6,1225.3 L1648.4,1224.5 L1650.2,1224.3 L1651.9,1224.6 L1653.7,1225.5 L1655.3,1227.4 L1656.9,1230.2 L1658.3,1234.1 L1659.6,1238.9 L1661.6,1242.6 L1664.2,1245.0 L1667.5,1246.2 L1671.5,1246.2 L1675.1,1246.3 L1678.4,1246.5 L1681.4,1246.9 L1684.0,1247.3 L1686.4,1246.8 L1688.7,1245.2 L1690.6,1242.7 L1692.4,1239.2 L1694.2,1236.3 L1696.2,1234.1 L1698.3,1232.6 L1700.5,1231.7 L1702.7,1231.3 L1704.9,1231.3 L1707.1,1231.7 L1709.3,1232.6 L1711.4,1234.2 L1713.4,1236.6 L1715.2,1239.8 L1717.0,1243.8 L1719.6,1246.7 L1723.1,1248.7 L1727.5,1249.7 L1732.8,1249.7 L1737.2,1249.3 L1740.7,1248.4 L1743.4,1247.1 L1745.1,1245.3 L1747.1,1243.5 L1749.3,1241.7 L1751.7,1239.7 L1754.4,1237.8 L1756.9,1236.6 L1759.3,1236.1 L1761.6,1236.5 L1763.8,1237.5 L1766.0,1238.4 L1768.2,1238.9 L1770.4,1239.2 L1772.6,1239.2 L1774.9,1239.6 L1777.3,1240.5 L1779.9,1241.8 L1782.5,1243.6 L1784.8,1245.3 L1786.8,1247.1 L1788.4,1248.8 L1789.8,1250.6 L1791.2,1251.5 L1792.7,1251.5 L1794.4,1250.6 L1796.1,1248.8 L1798.0,1247.4 L1800.0,1246.3 L1802.1,1245.5 L1804.3,1245.1 L1806.2,1242.9 L1807.7,1238.9 L1808.9,1233.2 L1809.8,1225.7 L1811.0,1219.8 L1812.5,1215.4 L1814.4,1212.6 L1816.6,1211.2 L1818.8,1210.5 L1821.0,1210.3 L1823.2,1210.6 L1825.4,1211.5 L1827.4,1213.5 L1829.1,1216.5 L1830.7,1220.7 L1832.0,1226.0 L1833.5,1230.2 L1835.3,1233.4 L1837.3,1235.5 L1839.4,1236.6 L1841.7,1237.6 L1844.1,1238.5 L1846.7,1239.3 L1849.3,1239.9 L1851.5,1241.6 L1853.3,1244.4 L1854.6,1248.2 L1855.5,1253.0 L1856.6,1256.7 L1857.9,1259.1 L1859.5,1260.3 L1861.2,1260.3 L1862.9,1259.6 L1864.4,1258.3 L1865.8,1256.3 L1867.2,1253.7 L1868.7,1251.5 L1870.4,1249.7 L1872.4,1248.4 L1874.6,1247.5 L1876.7,1247.1 L1878.7,1247.1 L1880.6,1247.5 L1882.3,1248.4 L1883.8,1250.4 L1884.9,1253.4 L1885.6,1257.6 L1886.1,1262.9 L1886.9,1266.5 L1888.2,1268.5 L1890.0,1268.8 L1892.2,1267.5 L1894.2,1266.4 L1895.9,1265.5 L1897.5,1264.9 L1898.8,1264.4 L1900.2,1264.3 L1901.8,1264.6 L1903.4,1265.1 L1905.2,1266.0 L1906.8,1267.9 L1908.4,1270.7 L1909.8,1274.6 L1911.1,1279.4 L1912.5,1283.1 L1913.9,1285.6 L1915.3,1287.0 L1916.8,1287.2 L1918.4,1287.8 L1919.9,1288.7 L1921.5,1289.9 L1923.1,1291.6 L1924.3,1292.8 L1925.1,1293.6 L1925.5,1294.0 L1925.5,1310.0 L1924.5,1310.1 L1922.5,1310.2 L1919.5,1310.5 L1915.6,1310.8 L1911.9,1310.6 L1908.6,1309.9 L1905.6,1308.6 L1903.0,1306.9 L1900.1,1305.8 L1897.0,1305.3 L1893.8,1305.5 L1890.2,1306.5 L1887.0,1306.5 L1883.9,1305.6 L1881.0,1303.8 L1878.4,1301.2 L1876.0,1299.1 L1873.8,1297.5 L1871.8,1296.5 L1870.0,1296.1 L1868.5,1296.3 L1867.2,1297.2 L1866.1,1298.7 L1865.2,1300.9 L1863.2,1302.4 L1860.1,1303.3 L1856.0,1303.6 L1850.7,1303.1 L1846.2,1301.5 L1842.7,1298.6 L1840.1,1294.6 L1838.3,1289.3 L1835.9,1285.6 L1832.8,1283.4 L1829.1,1282.7 L1824.7,1283.6 L1821.2,1285.2 L1818.5,1287.6 L1816.8,1290.8 L1815.9,1294.8 L1814.7,1298.2 L1813.2,1301.0 L1811.3,1303.4 L1809.1,1305.1 L1806.7,1306.1 L1804.0,1306.4 L1801.2,1305.8 L1798.1,1304.5 L1795.4,1302.9 L1793.0,1301.2 L1790.9,1299.2 L1789.1,1297.0 L1786.8,1295.4 L1784.0,1294.2 L1780.5,1293.7 L1776.6,1293.7 L1773.2,1293.2 L1770.6,1292.0 L1768.6,1290.4 L1767.3,1288.2 L1765.4,1287.0 L1763.0,1286.8 L1760.0,1287.5 L1756.5,1289.3 L1753.3,1290.7 L1750.2,1291.8 L1747.3,1292.6 L1744.7,1293.0 L1742.0,1292.6 L1739.4,1291.3 L1736.8,1289.1 L1734.1,1286.0 L1731.7,1284.4 L1729.5,1284.1 L1727.5,1285.3 L1725.8,1288.0 L1723.7,1290.0 L1721.2,1291.6 L1718.5,1292.6 L1715.4,1293.0 L1712.7,1292.0 L1710.3,1289.6 L1708.2,1285.8 L1706.4,1280.5 L1704.9,1277.7 L1703.6,1277.2 L1702.5,1279.2 L1701.6,1283.6 L1700.0,1286.9 L1697.5,1289.1 L1694.3,1290.2 L1690.4,1290.2 L1687.1,1290.0 L1684.4,1289.5 L1682.5,1288.9 L1681.2,1288.0 L1679.4,1287.8 L1677.2,1288.2 L1674.5,1289.3 L1671.5,1291.1 L1668.6,1292.1 L1665.9,1292.3 L1663.5,1291.7 L1661.3,1290.4 L1659.3,1289.7 L1657.6,1289.7 L1656.1,1290.4 L1654.7,1291.7 L1652.8,1292.7 L1650.1,1293.4 L1646.8,1293.7 L1642.9,1293.7 L1639.7,1292.7 L1637.2,1290.7 L1635.6,1287.8 L1634.7,1283.8 L1633.6,1281.4 L1632.3,1280.5 L1630.8,1281.2 L1629.0,1283.4 L1626.8,1285.4 L1624.0,1287.3 L1620.7,1289.0 L1616.8,1290.5 L1613.5,1291.4 L1610.6,1291.7 L1608.1,1291.5 L1606.1,1290.7 L1603.9,1289.9 L1601.5,1289.1 L1598.9,1288.3 L1596.1,1287.5 L1593.4,1286.5 L1590.8,1285.3 L1588.3,1283.9 L1585.9,1282.4 L1583.5,1280.7 L1581.1,1278.9 L1578.7,1277.0 L1576.3,1275.0 L1574.1,1274.7 L1572.1,1276.1 L1570.3,1279.2 L1568.7,1283.9 L1567.1,1288.3 L1565.5,1292.3 L1563.9,1295.9 L1562.3,1299.1 L1560.0,1301.5 L1557.0,1303.1 L1553.3,1303.9 L1548.9,1303.9 L1545.5,1302.6 L1543.1,1300.0 L1541.7,1296.1 L1541.3,1290.9 L1540.4,1287.0 L1539.0,1284.4 L1537.1,1283.1 L1534.7,1283.1 L1532.5,1283.5 L1530.5,1284.3 L1528.7,1285.5 L1527.1,1287.1 L1525.1,1288.4 L1522.7,1289.4 L1519.9,1290.1 L1516.7,1290.5 L1513.5,1290.5 L1510.3,1290.1 L1507.1,1289.3 L1503.9,1288.1 L1501.1,1286.9 L1498.7,1285.7 L1496.7,1284.5 L1495.1,1283.3 L1493.5,1283.4 L1491.9,1284.8 L1490.3,1287.5 L1488.7,1291.5 L1486.9,1294.9 L1484.9,1297.7 L1482.7,1299.9 L1480.3,1301.5 L1478.0,1302.4 L1475.8,1302.6 L1473.7,1302.1 L1471.7,1300.9 L1469.4,1299.5 L1466.8,1297.9 L1463.9,1296.1 L1460.7,1294.1 L1458.0,1292.0 L1455.8,1289.8 L1454.1,1287.5 L1452.9,1285.1 L1451.6,1284.1 L1450.2,1284.5 L1448.7,1286.3 L1447.1,1289.5 L1445.1,1291.9 L1442.7,1293.5 L1439.9,1294.3 L1436.8,1294.3 L1434.0,1293.5 L1431.6,1291.9 L1429.6,1289.5 L1427.9,1286.3 L1425.9,1283.7 L1423.5,1281.7 L1420.7,1280.3 L1417.6,1279.5 L1414.8,1279.1 L1412.4,1279.1 L1410.4,1279.5 L1408.8,1280.3 L1407.4,1282.4 L1406.2,1285.8 L1405.2,1290.5 L1404.4,1296.5 L1402.7,1301.0 L1400.1,1304.0 L1396.6,1305.5 L1392.2,1305.5 L1388.7,1304.1 L1386.1,1301.3 L1384.4,1297.1 L1383.6,1291.5 L1382.3,1287.3 L1380.5,1284.5 L1378.2,1283.1 L1375.4,1283.1 L1373.0,1283.3 L1371.0,1283.7 L1369.4,1284.3 L1368.2,1285.1 L1366.6,1286.1 L1364.6,1287.3 L1362.2,1288.7 L1359.4,1290.3 L1356.9,1291.2 L1354.7,1291.4 L1352.8,1290.9 L1351.2,1289.7 L1349.6,1288.8 L1348.0,1288.2 L1346.4,1287.9 L1344.8,1287.9 L1343.0,1288.2 L1341.0,1288.8 L1338.8,1289.7 L1336.4,1290.9 L1334.3,1291.7 L1332.5,1292.1 L1331.0,1292.1 L1329.7,1291.7 L1328.4,1290.2 L1327.0,1287.6 L1325.5,1283.9 L1323.9,1279.1 L1322.3,1276.4 L1320.7,1275.8 L1319.1,1277.3 L1317.5,1280.9 L1315.1,1283.7 L1311.9,1285.7 L1307.9,1286.9 L1303.1,1287.3 L1299.1,1287.9 L1295.9,1288.7 L1293.5,1289.7 L1291.9,1290.9 L1289.3,1291.8 L1285.7,1292.4 L1281.1,1292.7 L1275.5,1292.7 L1271.1,1291.6 L1267.9,1289.4 L1265.9,1286.1 L1265.1,1281.7 L1263.8,1278.5 L1262.0,1276.5 L1259.7,1275.7 L1256.9,1276.1 L1254.3,1276.7 L1251.9,1277.5 L1249.7,1278.5 L1247.7,1279.7 L1245.9,1280.9 L1244.3,1282.1 L1242.9,1283.3 L1241.7,1284.5 L1239.8,1285.4 L1237.2,1286.0 L1233.9,1286.3 L1229.9,1286.3 L1226.4,1286.0 L1223.4,1285.4 L1220.9,1284.5 L1218.9,1283.3 L1217.0,1283.1 L1215.2,1283.9 L1213.5,1285.7 L1211.9,1288.5 L1209.3,1290.9 L1205.7,1292.9 L1201.1,1294.5 L1195.5,1295.7 L1190.4,1296.1 L1185.8,1295.7 L1181.7,1294.5 L1178.1,1292.5 L1175.1,1290.3 L1172.7,1287.9 L1170.9,1285.3 L1169.7,1282.5 L1168.2,1280.1 L1166.4,1278.1 L1164.3,1276.5 L1161.9,1275.3 L1159.7,1274.9 L1157.7,1275.3 L1155.9,1276.5 L1154.4,1278.5 L1152.1,1280.1 L1149.1,1281.3 L1145.4,1282.1 L1141.0,1282.5 L1137.5,1283.4 L1134.9,1284.8 L1133.2,1286.7 L1132.4,1289.1 L1131.2,1291.2 L1129.6,1293.0 L1127.6,1294.5 L1125.2,1295.7 L1122.6,1296.2 L1119.8,1296.0 L1116.8,1295.1 L1113.6,1293.5 L1110.7,1292.7 L1108.1,1292.7 L1105.8,1293.5 L1103.8,1295.1 L1101.8,1296.0 L1099.8,1296.2 L1097.8,1295.7 L1095.8,1294.5 L1093.5,1292.7 L1090.9,1290.3 L1088.0,1287.3 L1084.8,1283.7 L1081.9,1280.4 L1079.3,1277.4 L1077.0,1274.7 L1075.0,1272.3 L1072.4,1270.5 L1069.2,1269.3 L1065.4,1268.7 L1061.0,1268.7 L1057.4,1269.3 L1054.6,1270.5 L1052.6,1272.3 L1051.4,1274.7 L1049.9,1276.7 L1048.1,1278.3 L1046.0,1279.5 L1043.6,1280.3 L1041.5,1280.9 L1039.7,1281.1 L1038.2,1281.2 L1036.9,1281.0 L1035.8,1281.5 L1034.8,1282.6 L1033.9,1284.3 L1033.1,1286.7 L1031.4,1288.4 L1028.8,1289.4 L1025.3,1289.7 L1020.9,1289.3 L1017.4,1286.8 L1014.8,1282.2 L1013.1,1275.5 L1012.3,1266.7 L1011.4,1260.7 L1010.4,1257.5 L1009.3,1257.1 L1008.1,1259.5 L1006.3,1261.3 L1003.9,1262.5 L1000.9,1263.1 L997.3,1263.1 L994.1,1262.8 L991.3,1262.2 L988.9,1261.3 L986.9,1260.1 L985.2,1261.0 L983.8,1264.0 L982.7,1269.1 L981.9,1276.3 L980.8,1282.0 L979.4,1286.2 L977.7,1288.9 L975.7,1290.1 L973.7,1290.8 L971.7,1291.0 L969.7,1290.7 L967.7,1289.9 L965.4,1288.6 L962.8,1286.8 L959.9,1284.5 L956.7,1281.7 L953.8,1277.7 L951.2,1272.5 L948.9,1266.1 L946.9,1258.5 L944.9,1253.2 L942.9,1250.2 L940.9,1249.5 L938.9,1251.1 L936.8,1252.3 L934.6,1253.1 L932.3,1253.5 L929.9,1253.5 L927.8,1255.3 L926.0,1258.9 L924.5,1264.3 L923.3,1271.5 L921.8,1277.1 L920.0,1281.1 L917.9,1283.5 L915.5,1284.3 L913.1,1284.3 L910.7,1283.5 L908.3,1281.9 L905.9,1279.5 L903.8,1278.1 L902.0,1277.7 L900.5,1278.3 L899.3,1279.9 L897.9,1281.4 L896.3,1282.8 L894.5,1284.1 L892.5,1285.3 L890.5,1285.9 L888.5,1285.9 L886.5,1285.3 L884.5,1284.1 L882.8,1281.2 L881.4,1276.6 L880.3,1270.3 L879.5,1262.3 L878.1,1255.3 L876.1,1249.3 L873.5,1244.3 L870.3,1240.3 L867.3,1237.1 L864.5,1234.7 L861.9,1233.1 L859.6,1232.3 L857.7,1232.1 L856.3,1232.5 L855.4,1233.5 L855.0,1235.1 L854.0,1236.5 L852.4,1237.7 L850.2,1238.7 L847.4,1239.5 L845.1,1241.7 L843.3,1245.3 L842.0,1250.3 L841.2,1256.7 L839.7,1261.5 L837.5,1264.7 L834.6,1266.3 L831.0,1266.3 L828.1,1264.9 L825.9,1262.1 L824.4,1257.9 L823.6,1252.3 L822.8,1246.5 L822.0,1240.5 L821.2,1234.3 L820.4,1227.9 L819.5,1223.7 L818.5,1221.7 L817.4,1221.9 L816.2,1224.3 L814.6,1226.1 L812.6,1227.3 L810.2,1227.9 L807.4,1227.9 L805.0,1226.8 L803.0,1224.6 L801.4,1221.3 L800.2,1216.9 L799.0,1214.1 L797.8,1212.9 L796.6,1213.3 L795.4,1215.3 L794.0,1217.4 L792.4,1219.6 L790.6,1221.9 L788.6,1224.3 L786.5,1226.4 L784.3,1228.2 L782.0,1229.7 L779.6,1230.9 L777.1,1231.5 L774.5,1231.5 L771.8,1230.9 L769.0,1229.8 L766.6,1227.8 L764.6,1225.0 L763.0,1221.4 L761.7,1216.9 L760.5,1214.3 L759.3,1213.5 L758.1,1214.5 L756.9,1217.3 L754.9,1219.4 L752.1,1220.8 L748.5,1221.5 L744.1,1221.5 L740.5,1220.3 L737.7,1217.9 L735.7,1214.3 L734.5,1209.6 L732.8,1206.1 L730.6,1203.9 L727.9,1203.0 L724.8,1203.4 L721.9,1203.5 L719.3,1203.3 L717.0,1202.8 L714.9,1202.0 L713.1,1202.0 L711.5,1202.8 L710.1,1204.4 L708.9,1206.7 L707.2,1208.5 L705.0,1209.7 L702.3,1210.3 L699.1,1210.3 L696.5,1209.7 L694.5,1208.5 L693.1,1206.7 L692.3,1204.4 L691.3,1202.7 L690.1,1201.7 L688.7,1201.4 L687.1,1201.8 L685.6,1203.0 L684.2,1205.0 L682.9,1207.8 L681.7,1211.3 L680.3,1214.2 L678.7,1216.4 L676.9,1217.9 L674.9,1218.7 L672.8,1218.9 L670.6,1218.5 L668.3,1217.5 L665.9,1215.9 L663.3,1215.0 L660.5,1214.8 L657.5,1215.3 L654.3,1216.5 L650.9,1217.6 L647.3,1218.6 L643.5,1219.5 L639.5,1220.3 L636.3,1222.2 L633.9,1225.2 L632.3,1229.3 L631.5,1234.5 L630.3,1238.6 L628.7,1241.6 L626.7,1243.5 L624.3,1244.3 L621.5,1244.9 L618.3,1245.3 L614.7,1245.5 L610.7,1245.5 L607.5,1246.3 L605.1,1247.9 L603.5,1250.3 L602.7,1253.5 L601.0,1256.0 L598.4,1257.8 L594.9,1258.9 L590.6,1259.3 L587.0,1259.8 L584.2,1260.4 L582.2,1261.1 L581.0,1261.9 L579.1,1262.6 L576.5,1263.2 L573.2,1263.7 L569.2,1264.1 L565.9,1264.8 L563.3,1265.8 L561.4,1267.1 L560.2,1268.7 L558.7,1270.0 L556.9,1271.0 L554.8,1271.7 L552.4,1272.1 L550.2,1271.9 L548.2,1271.1 L546.4,1269.7 L544.8,1267.7 L543.2,1266.1 L541.6,1264.9 L540.0,1264.1 L538.4,1263.7 L537.0,1264.6 L535.8,1266.8 L534.8,1270.3 L534.0,1275.1 L532.6,1278.7 L530.6,1281.1 L528.0,1282.3 L524.8,1282.3 L522.2,1282.9 L520.2,1284.1 L518.8,1285.9 L518.0,1288.3 L516.9,1290.4 L515.5,1292.2 L513.8,1293.7 L511.8,1294.9 L509.8,1295.5 L507.8,1295.5 L505.8,1294.9 L503.8,1293.7 L502.1,1291.9 L500.7,1289.5 L499.6,1286.5 L498.7,1282.9 L497.3,1280.0 L495.3,1277.8 L492.7,1276.3 L489.5,1275.5 L486.9,1275.8 L484.9,1277.2 L483.5,1279.7 L482.7,1283.3 L480.9,1286.1 L478.1,1288.1 L474.3,1289.3 L469.5,1289.7 L465.7,1290.6 L462.9,1292.0 L461.1,1293.9 L460.3,1296.3 L459.2,1298.3 L457.8,1299.9 L456.1,1301.1 L454.1,1301.9 L451.6,1302.5 L448.6,1302.9 L445.1,1303.1 L441.1,1303.1 L437.4,1303.1 L434.0,1303.1 L430.9,1303.1 L428.1,1303.1 L424.9,1302.5 L421.3,1301.3 L417.3,1299.5 L412.9,1297.1 L409.3,1294.9 L406.5,1292.9 L404.5,1291.1 L403.3,1289.5 L401.4,1288.2 L398.8,1287.2 L395.5,1286.5 L391.5,1286.1 L388.3,1285.3 L385.9,1284.1 L384.3,1282.5 L383.5,1280.5 L382.5,1278.9 L381.3,1277.7 L379.9,1276.9 L378.3,1276.5 L376.7,1277.3 L375.1,1279.3 L373.5,1282.5 L371.9,1286.9 L370.1,1290.2 L368.1,1292.4 L365.9,1293.5 L363.5,1293.5 L361.3,1293.0 L359.3,1292.0 L357.5,1290.5 L355.9,1288.5 L353.7,1286.9 L350.9,1285.7 L347.5,1284.9 L343.5,1284.5 L340.4,1284.8 L338.2,1285.8 L336.9,1287.5 L336.5,1289.9 L335.3,1291.7 L333.3,1292.9 L330.5,1293.5 L326.9,1293.5 L324.0,1292.6 L321.8,1290.8 L320.3,1288.1 L319.5,1284.5 L318.0,1281.7 L315.8,1279.7 L312.9,1278.5 L309.4,1278.1 L306.5,1276.9 L304.3,1274.9 L302.8,1272.1 L302.0,1268.5 L301.1,1265.7 L300.1,1263.7 L299.0,1262.5 L297.8,1262.1 L296.7,1263.0 L295.7,1265.2 L294.8,1268.7 L294.0,1273.5 L293.1,1278.2 L292.1,1282.8 L291.0,1287.3 L289.8,1291.7 L288.0,1294.9 L285.6,1296.9 L282.6,1297.7 L279.0,1297.3 L275.5,1297.2 L272.1,1297.4 L268.8,1297.9 L265.6,1298.7 L262.8,1299.7 L260.4,1300.9 L258.4,1302.3 L256.8,1303.9 L255.0,1305.1 L253.0,1305.9 L250.8,1306.3 L248.4,1306.3 L245.8,1305.7 L243.0,1304.5 L240.0,1302.7 L236.8,1300.3 L233.9,1299.3 L231.3,1299.7 L229.0,1301.5 L227.0,1304.7 L224.9,1307.2 L222.9,1309.0 L220.7,1310.1 L218.5,1310.5 L216.6,1310.8 L215.0,1311.0 L213.6,1311.1 L212.6,1311.0 L211.8,1311.0 L211.3,1311.0 L211.0,1311.0 Z" fill="#0000ff"/>
<path d="M215.0,545.5 L215.0,545.5 L215.1,545.5 L215.2,545.4 L215.4,545.4 L216.1,545.0 L217.4,544.3 L219.3,543.2 L221.8,541.9 L224.3,541.1 L226.7,540.8 L229.0,541.2 L231.4,542.1 L233.8,543.5 L236.3,545.3 L238.9,547.6 L241.7,550.3 L244.3,552.2 L246.8,553.4 L249.2,553.7 L251.5,553.3 L253.9,551.8 L256.4,549.3 L259.0,545.7 L261.8,541.2 L264.3,537.4 L266.6,534.4 L268.6,532.2 L270.5,530.9 L272.3,528.7 L274.1,525.7 L275.9,521.9 L277.8,517.4 L279.5,511.1 L281.1,503.1 L282.6,493.3 L283.9,481.9 L285.2,469.9 L286.4,457.3 L287.4,444.1 L288.3,430.4 L289.1,415.5 L289.8,399.5 L290.4,382.4 L290.8,364.1 L291.4,349.0 L292.1,337.1 L292.9,328.4 L293.8,322.9 L295.0,318.6 L296.5,315.5 L298.3,313.6 L300.3,312.9 L302.4,312.6 L304.4,312.6 L306.5,312.9 L308.6,313.6 L310.4,315.5 L311.9,318.6 L313.1,322.9 L313.9,328.4 L314.7,340.5 L315.4,359.2 L316.0,384.6 L316.5,416.7 L317.0,448.0 L317.6,478.7 L318.2,508.6 L318.9,537.9 L319.9,560.4 L321.3,575.9 L323.0,584.6 L325.0,586.5 L327.5,587.7 L330.3,588.4 L333.6,588.5 L337.3,588.1 L340.7,586.7 L343.9,584.4 L346.9,581.2 L349.7,577.1 L352.2,571.9 L354.5,565.8 L356.5,558.6 L358.4,550.3 L360.0,539.6 L361.3,526.3 L362.5,510.5 L363.3,492.2 L364.2,475.6 L365.0,460.7 L365.7,447.6 L366.5,436.1 L367.3,426.9 L368.2,419.8 L369.2,414.9 L370.3,412.1 L371.6,409.9 L373.1,408.2 L374.8,407.0 L376.6,406.3 L378.6,406.0 L380.6,406.0 L382.8,406.3 L385.1,407.0 L387.0,408.8 L388.5,411.6 L389.5,415.5 L390.3,420.6 L390.9,431.2 L391.6,447.5 L392.3,469.3 L393.0,496.8 L393.7,521.0 L394.4,542.1 L395.0,559.9 L395.8,574.6 L396.7,585.8 L397.8,593.5 L399.2,597.9 L400.8,598.8 L402.7,598.9 L404.9,598.2 L407.3,596.8 L410.1,594.5 L412.7,591.7 L415.2,588.5 L417.6,584.8 L419.9,580.8 L421.8,573.1 L423.3,561.9 L424.4,547.1 L425.1,528.9 L425.7,514.2 L426.4,503.2 L427.1,495.9 L427.8,492.2 L428.9,489.1 L430.5,486.6 L432.6,484.6 L435.1,483.3 L437.6,482.5 L440.0,482.2 L442.3,482.6 L444.6,483.5 L446.5,486.4 L448.1,491.2 L449.4,497.9 L450.3,506.6 L451.2,518.8 L452.0,534.3 L452.7,553.3 L453.4,575.8 L455.2,592.7 L458.0,604.1 L462.0,610.1 L467.0,610.5 L471.2,610.8 L474.4,610.9 L476.6,610.8 L478.0,610.5 L480.5,610.1 L484.2,609.7 L489.2,609.2 L495.2,608.8 L500.6,607.5 L505.2,605.4 L509.0,602.6 L512.0,599.1 L514.6,594.0 L516.6,587.3 L518.1,579.2 L519.2,569.5 L520.1,559.8 L521.0,550.2 L521.8,540.5 L522.6,530.9 L523.7,523.4 L525.3,518.2 L527.3,515.3 L529.7,514.5 L532.1,514.1 L534.5,514.1 L536.9,514.5 L539.4,515.3 L541.4,519.5 L543.2,527.3 L544.5,538.5 L545.6,553.3 L546.5,566.5 L547.4,578.2 L548.3,588.4 L549.0,597.0 L551.1,603.5 L554.4,607.8 L559.0,610.0 L564.8,610.0 L570.0,610.4 L574.4,611.1 L578.2,612.2 L581.2,613.8 L585.8,615.0 L591.9,616.0 L599.5,616.8 L608.7,617.3 L616.3,616.1 L622.4,613.0 L627.0,608.2 L630.0,601.6 L633.6,596.3 L637.6,592.2 L642.2,589.4 L647.3,587.9 L651.3,582.3 L654.4,572.6 L656.4,558.9 L657.5,541.1 L658.5,523.3 L659.7,505.5 L660.9,487.7 L662.1,469.9 L663.8,456.4 L666.0,447.1 L668.6,442.1 L671.7,441.3 L674.6,440.9 L677.4,440.9 L680.1,441.3 L682.6,442.1 L684.7,447.1 L686.3,456.4 L687.6,469.9 L688.3,487.7 L689.1,507.1 L689.9,528.2 L690.6,551.0 L691.4,575.4 L692.8,593.6 L694.8,605.5 L697.4,611.2 L700.8,610.8 L704.0,609.5 L707.2,607.4 L710.3,604.6 L713.4,601.1 L715.9,583.1 L717.8,550.8 L719.1,504.2 L719.9,443.2 L720.8,392.9 L721.8,353.2 L722.9,324.2 L724.2,306.0 L725.8,292.2 L727.8,282.9 L730.1,278.1 L732.7,277.9 L735.3,277.9 L737.9,278.1 L740.3,278.6 L742.8,279.4 L744.8,284.4 L746.6,293.7 L747.9,307.2 L749.0,325.0 L749.9,354.4 L750.8,395.3 L751.6,447.8 L752.4,511.9 L753.3,559.6 L754.5,591.0 L755.9,606.0 L757.6,604.6 L759.6,603.3 L762.0,602.0 L764.8,600.7 L767.9,599.4 L770.8,594.0 L773.3,584.5 L775.5,570.8 L777.5,553.0 L779.5,539.5 L781.7,530.3 L784.1,525.4 L786.7,524.7 L789.3,524.4 L792.0,524.4 L794.8,524.7 L797.7,525.4 L800.1,513.4 L802.0,489.0 L803.4,451.9 L804.4,402.4 L805.3,363.8 L806.3,336.3 L807.4,319.8 L808.4,314.2 L809.7,309.9 L811.2,306.7 L813.0,304.7 L815.0,303.8 L817.0,303.4 L819.0,303.4 L821.0,303.8 L823.0,304.7 L824.7,305.9 L826.0,307.5 L827.0,309.5 L827.6,311.8 L828.4,328.7 L829.4,360.0 L830.5,405.9 L831.8,466.2 L832.9,514.7 L833.9,551.2 L834.7,575.9 L835.3,588.6 L837.1,598.2 L839.9,604.5 L843.9,607.7 L849.0,607.7 L853.6,607.1 L857.7,605.8 L861.4,603.9 L864.5,601.3 L867.3,588.9 L869.7,566.7 L871.7,534.6 L873.3,492.6 L874.7,447.3 L876.0,398.7 L877.1,346.7 L878.1,291.5 L879.0,249.6 L879.9,221.3 L880.8,206.4 L881.7,205.1 L882.8,203.9 L884.1,202.9 L885.7,202.2 L887.5,201.7 L889.3,201.4 L891.0,201.4 L892.8,201.7 L894.4,202.2 L896.0,202.9 L897.3,203.9 L898.5,205.1 L899.6,206.4 L900.6,221.3 L901.6,249.6 L902.5,291.5 L903.5,346.7 L904.3,395.2 L905.1,436.9 L905.9,471.7 L906.5,499.6 L907.8,520.6 L909.7,534.6 L912.3,541.6 L915.4,541.6 L918.3,545.7 L920.8,554.0 L923.0,566.4 L925.0,582.9 L927.0,595.1 L929.2,603.1 L931.6,606.7 L934.2,606.1 L936.7,601.8 L939.3,593.8 L941.8,582.2 L944.4,567.0 L947.1,555.5 L949.9,547.7 L953.0,543.6 L956.1,543.3 L959.1,545.7 L962.0,550.8 L964.7,558.5 L967.2,569.0 L969.9,576.9 L972.7,582.2 L975.8,584.8 L978.9,584.8 L981.6,572.2 L983.9,547.1 L985.6,509.5 L986.9,459.2 L988.6,421.0 L990.6,394.8 L993.1,380.6 L996.0,378.3 L998.9,377.2 L1001.7,377.2 L1004.6,378.3 L1007.4,380.6 L1009.7,389.9 L1011.5,406.2 L1012.7,429.7 L1013.3,460.2 L1014.1,489.5 L1015.1,517.4 L1016.2,544.1 L1017.4,569.6 L1019.0,588.0 L1020.9,599.4 L1023.1,603.9 L1025.7,601.3 L1028.2,598.9 L1030.8,596.7 L1033.3,594.7 L1035.9,592.8 L1038.4,591.8 L1040.9,591.7 L1043.4,592.6 L1045.9,594.3 L1048.6,595.6 L1051.7,596.4 L1055.0,596.6 L1058.6,596.4 L1061.9,597.4 L1064.9,599.6 L1067.6,603.0 L1070.0,607.7 L1072.6,610.5 L1075.4,611.4 L1078.4,610.5 L1081.6,607.7 L1084.7,605.4 L1087.7,603.6 L1090.6,602.3 L1093.4,601.5 L1096.0,601.1 L1098.4,601.1 L1100.6,601.5 L1102.6,602.3 L1104.6,604.1 L1106.6,606.9 L1108.6,610.7 L1110.6,615.5 L1112.9,618.9 L1115.5,620.9 L1118.4,621.5 L1121.6,620.7 L1125.0,620.0 L1128.6,619.4 L1132.4,618.9 L1136.4,618.6 L1140.0,617.6 L1143.2,616.1 L1146.0,614.1 L1148.4,611.4 L1150.9,609.5 L1153.5,608.2 L1156.1,607.5 L1158.9,607.5 L1161.3,608.4 L1163.5,610.2 L1165.4,612.9 L1167.1,616.6 L1168.8,617.5 L1170.6,615.8 L1172.5,611.5 L1174.5,604.5 L1176.7,598.2 L1179.1,592.8 L1181.7,588.0 L1184.5,584.0 L1187.2,581.3 L1189.8,579.9 L1192.3,579.8 L1194.7,580.9 L1196.7,582.4 L1198.3,584.2 L1199.5,586.3 L1200.3,588.7 L1201.6,590.5 L1203.4,591.8 L1205.7,592.6 L1208.5,592.7 L1211.0,593.6 L1213.2,595.1 L1215.1,597.2 L1216.6,600.1 L1219.2,602.3 L1222.8,603.9 L1227.4,604.9 L1233.1,605.4 L1237.6,604.5 L1241.0,602.4 L1243.3,599.1 L1244.5,594.4 L1246.1,590.3 L1248.1,586.6 L1250.5,583.3 L1253.3,580.5 L1256.0,578.7 L1258.6,577.9 L1261.1,578.1 L1263.4,579.2 L1265.5,582.4 L1267.3,587.6 L1268.8,594.9 L1270.1,604.1 L1271.8,611.5 L1274.0,616.9 L1276.7,620.4 L1279.9,621.9 L1284.6,623.2 L1290.8,624.2 L1298.5,624.9 L1307.7,625.4 L1315.0,623.8 L1320.4,620.2 L1323.9,614.6 L1325.5,606.9 L1327.3,601.0 L1329.3,596.8 L1331.5,594.3 L1334.0,593.5 L1336.3,593.0 L1338.5,592.8 L1340.6,592.9 L1342.6,593.4 L1344.5,594.2 L1346.3,595.4 L1348.0,597.0 L1349.6,599.0 L1351.4,600.6 L1353.4,601.9 L1355.6,602.9 L1358.0,603.4 L1360.2,604.8 L1362.2,607.0 L1364.0,610.0 L1365.6,613.8 L1367.2,617.0 L1368.8,619.5 L1370.4,621.3 L1372.0,622.5 L1374.0,623.2 L1376.4,623.4 L1379.2,623.1 L1382.4,622.2 L1385.6,621.2 L1388.8,620.0 L1392.0,618.6 L1395.2,617.1 L1398.3,616.2 L1401.3,616.0 L1404.2,616.5 L1407.0,617.7 L1409.5,619.2 L1411.7,621.0 L1413.6,623.1 L1415.2,625.4 L1418.3,627.2 L1422.9,628.4 L1429.0,629.0 L1436.6,629.0 L1443.0,628.6 L1448.2,627.7 L1452.1,626.4 L1454.9,624.6 L1457.2,619.8 L1459.2,611.8 L1460.9,600.6 L1462.1,586.4 L1463.8,575.4 L1465.8,567.7 L1468.1,563.2 L1470.9,562.1 L1473.5,561.5 L1476.1,561.5 L1478.6,562.1 L1481.1,563.2 L1483.2,566.9 L1485.0,573.1 L1486.5,581.9 L1487.7,593.1 L1489.3,602.5 L1491.3,609.9 L1493.7,615.4 L1496.5,618.9 L1499.0,620.1 L1501.2,618.9 L1503.1,615.3 L1504.6,609.3 L1506.5,604.4 L1508.7,600.6 L1511.2,597.9 L1514.1,596.4 L1516.8,595.5 L1519.4,595.3 L1521.9,595.8 L1524.4,596.9 L1526.5,599.1 L1528.3,602.3 L1529.8,606.5 L1530.9,611.7 L1532.5,616.2 L1534.5,620.0 L1536.9,623.1 L1539.8,625.4 L1542.9,627.3 L1546.3,628.7 L1550.0,629.6 L1554.0,630.1 L1557.4,629.5 L1560.2,627.9 L1562.4,625.3 L1563.9,621.7 L1565.6,618.9 L1567.4,616.9 L1569.3,615.7 L1571.3,615.3 L1573.4,615.3 L1575.6,615.7 L1577.9,616.5 L1580.3,617.7 L1582.6,617.6 L1584.8,616.2 L1586.9,613.5 L1588.9,609.5 L1591.0,606.2 L1593.2,603.8 L1595.5,602.0 L1597.9,601.0 L1600.4,600.5 L1603.0,600.5 L1605.7,601.0 L1608.5,602.0 L1611.1,603.0 L1613.4,604.0 L1615.4,605.0 L1617.3,605.9 L1619.1,606.5 L1621.1,606.5 L1623.1,606.1 L1625.2,605.3 L1627.4,604.9 L1629.6,604.9 L1632.0,605.3 L1634.5,606.1 L1636.8,608.2 L1638.8,611.5 L1640.7,616.1 L1642.3,621.8 L1644.1,626.3 L1645.9,629.5 L1647.9,631.4 L1649.9,632.1 L1652.5,632.2 L1655.6,631.9 L1659.2,631.1 L1663.4,629.9 L1667.4,628.8 L1671.3,627.9 L1675.2,627.1 L1678.8,626.5 L1682.8,626.4 L1686.9,626.7 L1691.2,627.4 L1695.8,628.7 L1700.0,629.5 L1703.9,629.9 L1707.5,629.9 L1710.8,629.5 L1714.6,628.8 L1718.7,627.8 L1723.3,626.4 L1728.2,624.8 L1733.2,623.9 L1738.2,623.9 L1743.1,624.8 L1748.1,626.4 L1752.2,627.9 L1755.5,629.1 L1758.0,630.1 L1759.6,631.0 L1761.7,631.2 L1764.2,630.8 L1767.0,629.7 L1770.3,628.1 L1773.4,627.1 L1776.3,626.9 L1779.0,627.4 L1781.5,628.7 L1783.8,629.0 L1785.8,628.3 L1787.7,626.8 L1789.3,624.3 L1791.2,622.3 L1793.3,620.7 L1795.5,619.6 L1798.0,619.0 L1800.6,618.8 L1803.3,619.1 L1806.1,619.9 L1809.0,621.1 L1811.8,622.3 L1814.4,623.5 L1817.0,624.6 L1819.5,625.6 L1821.7,625.4 L1823.5,623.8 L1825.1,621.0 L1826.3,616.9 L1827.9,613.6 L1829.7,611.1 L1831.9,609.5 L1834.4,608.6 L1836.9,608.3 L1839.3,608.5 L1841.8,609.3 L1844.3,610.5 L1846.6,612.7 L1848.6,615.8 L1850.5,619.8 L1852.1,624.8 L1854.7,628.5 L1858.2,631.1 L1862.7,632.5 L1868.0,632.7 L1872.6,632.3 L1876.3,631.3 L1879.2,629.6 L1881.3,627.4 L1883.3,623.8 L1885.1,619.0 L1886.9,612.8 L1888.5,605.4 L1890.4,599.6 L1892.4,595.6 L1894.7,593.3 L1897.2,592.6 L1899.7,592.4 L1902.1,592.6 L1904.6,593.2 L1907.1,594.3 L1909.3,596.3 L1911.1,599.3 L1912.7,603.3 L1913.9,608.2 L1915.2,612.7 L1916.6,616.8 L1918.1,620.3 L1919.7,623.4 L1921.1,626.1 L1922.4,628.4 L1923.5,630.2 L1924.5,631.8 L1925.2,632.9 L1925.8,633.6 L1926.0,634.0 L1926.0,652.0 L1925.8,652.2 L1925.2,652.6 L1924.5,653.2 L1923.5,654.1 L1921.7,654.5 L1919.1,654.5 L1915.6,654.1 L1911.4,653.2 L1907.9,652.1 L1905.1,650.7 L1903.1,648.9 L1901.9,646.9 L1900.6,645.8 L1899.4,645.8 L1898.1,646.9 L1896.9,648.9 L1893.4,650.7 L1887.7,652.1 L1879.9,653.2 L1869.8,654.1 L1858.9,654.2 L1847.2,653.5 L1834.8,652.2 L1821.6,650.1 L1809.1,649.0 L1797.3,648.9 L1786.1,649.8 L1775.7,651.7 L1764.2,652.9 L1751.9,653.4 L1738.5,653.2 L1724.1,652.3 L1710.3,651.7 L1696.9,651.4 L1684.0,651.4 L1671.6,651.6 L1660.2,651.7 L1649.9,651.5 L1640.6,651.1 L1632.4,650.4 L1624.4,649.9 L1616.8,649.4 L1609.5,649.0 L1602.5,648.8 L1594.2,648.8 L1584.8,649.1 L1574.0,649.8 L1562.0,650.8 L1551.0,651.3 L1541.0,651.3 L1532.0,650.8 L1524.0,649.8 L1515.0,648.8 L1505.0,647.6 L1494.0,646.5 L1482.0,645.3 L1470.0,644.8 L1458.0,645.0 L1446.0,645.9 L1434.0,647.6 L1422.0,648.6 L1410.0,649.0 L1398.0,648.8 L1386.0,647.9 L1375.0,647.1 L1365.0,646.3 L1356.0,645.5 L1348.0,644.7 L1339.5,644.1 L1330.5,643.9 L1321.0,643.8 L1311.0,644.0 L1301.5,644.0 L1292.5,643.8 L1284.0,643.4 L1276.0,642.9 L1268.0,642.3 L1260.0,641.7 L1252.0,641.1 L1244.0,640.4 L1235.4,639.7 L1226.1,638.9 L1216.2,638.0 L1205.8,637.0 L1196.5,636.5 L1188.5,636.7 L1181.8,637.3 L1176.2,638.5 L1168.6,639.6 L1158.9,640.6 L1147.0,641.5 L1133.0,642.3 L1119.8,642.7 L1107.4,642.7 L1095.8,642.3 L1085.0,641.5 L1075.1,640.4 L1066.0,639.1 L1057.9,637.6 L1050.6,635.8 L1043.2,634.3 L1035.8,633.1 L1028.3,632.1 L1020.6,631.5 L1014.1,630.2 L1008.7,628.3 L1004.4,625.7 L1001.3,622.6 L997.1,621.0 L992.0,621.0 L986.0,622.6 L979.0,625.7 L972.8,627.3 L967.4,627.3 L962.8,625.7 L958.9,622.6 L954.2,620.8 L948.4,620.5 L941.8,621.6 L934.1,624.2 L926.7,625.3 L919.4,625.0 L912.2,623.2 L905.3,620.1 L899.5,616.6 L895.1,612.8 L891.9,608.6 L890.0,604.2 L888.1,601.8 L886.2,601.5 L884.3,603.2 L882.3,607.1 L879.8,611.0 L876.6,615.2 L872.8,619.4 L868.4,623.9 L862.7,627.0 L855.7,628.9 L847.4,629.6 L837.9,628.9 L830.0,627.4 L823.6,624.8 L818.8,621.3 L815.7,616.9 L811.7,614.7 L806.9,614.7 L801.3,616.9 L795.0,621.3 L788.6,624.8 L782.2,627.4 L775.9,628.9 L769.5,629.6 L763.8,629.9 L758.7,629.9 L754.2,629.7 L750.2,629.1 L746.4,627.8 L742.7,625.8 L739.1,622.9 L735.5,619.4 L731.8,617.7 L728.0,618.0 L724.1,620.1 L720.0,624.2 L715.0,627.5 L709.2,630.0 L702.5,631.8 L694.8,632.9 L688.6,632.7 L683.8,631.5 L680.3,629.0 L678.3,625.5 L675.3,623.3 L671.5,622.5 L666.8,623.2 L661.3,625.2 L655.8,627.1 L650.5,628.9 L645.2,630.6 L640.2,632.1 L634.4,633.8 L628.1,635.5 L621.1,637.4 L613.4,639.5 L605.2,640.6 L596.3,640.9 L586.8,640.2 L576.6,638.7 L567.5,637.3 L559.3,636.0 L552.2,634.9 L546.1,633.8 L540.7,632.0 L536.1,629.5 L532.3,626.2 L529.3,622.1 L526.1,620.1 L522.8,620.1 L519.4,622.1 L515.8,626.2 L511.3,629.4 L505.7,631.7 L499.1,633.1 L491.4,633.6 L484.8,633.7 L479.2,633.3 L474.5,632.6 L470.9,631.3 L466.6,630.2 L461.8,629.1 L456.5,628.1 L450.5,627.2 L445.6,624.9 L441.7,621.2 L438.9,616.2 L437.0,609.8 L434.8,605.9 L432.0,604.5 L428.8,605.7 L425.2,609.3 L421.3,612.6 L417.2,615.6 L412.8,618.2 L408.3,620.5 L403.9,622.2 L399.7,623.2 L395.8,623.5 L392.1,623.2 L388.8,622.5 L385.8,621.4 L383.3,619.9 L381.2,617.9 L379.1,614.6 L376.9,609.9 L374.8,603.9 L372.6,596.4 L370.2,591.9 L367.5,590.3 L364.6,591.7 L361.4,595.9 L358.2,599.7 L355.0,602.9 L351.9,605.6 L348.7,607.7 L344.9,609.3 L340.3,610.3 L335.0,610.6 L329.0,610.4 L323.6,609.9 L318.7,609.3 L314.4,608.5 L310.6,607.5 L307.2,606.2 L304.2,604.8 L301.6,603.0 L299.4,601.0 L297.0,598.1 L294.5,594.2 L291.9,589.4 L289.1,583.6 L286.5,578.5 L284.0,574.0 L281.6,570.1 L279.4,566.9 L277.1,565.1 L274.9,564.9 L272.6,566.2 L270.4,569.1 L267.6,571.2 L264.4,572.6 L260.6,573.3 L256.4,573.3 L252.3,573.4 L248.6,573.5 L245.0,573.8 L241.6,574.1 L237.8,573.9 L233.5,573.2 L228.7,571.9 L223.5,570.0 L219.5,568.7 L216.8,567.8 L215.4,567.4 L215.2,567.4 L215.1,567.5 L215.0,567.5 L215.0,567.5 Z" fill="#008000"/>
<path d="M214.0,712.5 L214.1,712.5 L214.3,712.4 L214.6,712.3 L215.1,712.3 L216.1,711.6 L217.7,710.5 L219.9,708.8 L222.6,706.5 L225.3,705.2 L227.8,704.6 L230.2,704.9 L232.4,706.0 L234.7,708.5 L236.9,712.4 L239.1,717.8 L241.4,724.4 L243.7,730.9 L246.2,737.0 L248.9,742.9 L251.7,748.5 L254.5,753.8 L257.3,758.9 L260.1,763.6 L262.9,768.1 L265.4,771.4 L267.7,773.7 L269.6,774.8 L271.3,774.8 L272.8,771.2 L274.0,763.9 L275.1,753.0 L275.9,738.4 L276.8,723.3 L277.6,707.7 L278.4,691.4 L279.3,674.7 L280.2,659.1 L281.1,644.9 L282.2,631.9 L283.3,620.1 L284.7,611.1 L286.4,604.8 L288.4,601.2 L290.6,600.4 L292.9,600.1 L295.1,600.4 L297.3,601.2 L299.6,602.6 L301.5,607.9 L303.2,617.0 L304.6,629.9 L305.7,646.7 L306.7,667.7 L307.5,692.9 L308.2,722.2 L308.8,755.8 L309.3,783.5 L309.9,805.3 L310.5,821.2 L311.0,831.3 L312.3,840.1 L314.3,847.6 L316.9,853.9 L320.3,859.0 L323.3,863.2 L326.1,866.5 L328.6,869.0 L330.9,870.7 L332.9,871.2 L334.9,870.7 L336.7,869.0 L338.4,866.2 L339.9,860.6 L341.3,852.2 L342.6,841.0 L343.7,827.1 L344.8,812.4 L346.0,797.0 L347.1,780.9 L348.2,764.2 L349.8,750.9 L351.7,741.1 L354.1,734.8 L356.9,732.0 L359.6,730.5 L362.3,730.2 L364.9,731.1 L367.4,733.4 L369.4,739.4 L371.1,749.2 L372.4,762.7 L373.2,780.1 L374.1,798.7 L375.1,818.5 L376.2,839.7 L377.3,862.0 L379.0,879.2 L381.2,891.3 L384.0,898.1 L387.4,899.8 L390.2,897.8 L392.4,892.2 L394.1,883.0 L395.2,870.1 L396.3,857.1 L397.4,843.9 L398.5,830.7 L399.7,817.2 L401.1,806.8 L402.9,799.2 L405.1,794.6 L407.6,792.9 L410.1,792.1 L412.7,792.1 L415.2,792.9 L417.7,794.6 L419.7,800.6 L421.3,811.0 L422.3,825.6 L422.9,844.7 L423.6,862.3 L424.4,878.5 L425.4,893.3 L426.5,906.8 L428.5,917.5 L431.3,925.6 L434.9,931.1 L439.4,933.9 L444.1,936.0 L449.2,937.4 L454.5,938.1 L460.1,938.1 L464.7,936.8 L468.4,934.3 L471.0,930.6 L472.7,925.5 L474.4,918.3 L476.0,908.8 L477.7,897.0 L479.4,883.0 L481.1,872.1 L482.8,864.2 L484.5,859.5 L486.3,857.8 L487.9,856.6 L489.3,855.7 L490.6,855.3 L491.7,855.3 L493.1,855.6 L494.8,856.1 L496.8,857.0 L499.0,858.1 L501.0,862.6 L502.7,870.4 L504.0,881.6 L505.2,896.2 L506.1,909.2 L507.0,920.6 L507.7,930.6 L508.2,938.9 L509.6,944.8 L511.9,948.2 L515.0,949.0 L518.9,947.3 L522.6,946.5 L526.3,946.5 L529.8,947.3 L533.1,949.0 L537.6,950.1 L543.2,950.7 L549.9,950.7 L557.8,950.1 L564.2,947.8 L569.2,943.6 L572.8,937.6 L575.1,929.7 L577.3,922.5 L579.5,915.8 L581.8,909.6 L584.0,904.0 L586.5,899.5 L589.4,896.2 L592.4,893.9 L595.8,892.8 L598.6,888.9 L600.8,882.2 L602.5,872.6 L603.6,860.4 L604.7,846.9 L605.6,832.4 L606.5,816.7 L607.4,800.0 L608.5,787.2 L610.1,778.4 L612.0,773.5 L614.2,772.7 L616.5,772.5 L618.7,773.1 L620.9,774.3 L623.2,776.3 L625.0,782.2 L626.6,792.1 L627.8,806.0 L628.6,824.0 L629.5,842.8 L630.3,862.7 L631.1,883.5 L632.0,905.4 L633.6,921.6 L636.1,932.2 L639.5,937.2 L643.7,936.7 L647.1,933.7 L649.6,928.4 L651.3,920.7 L652.1,910.7 L653.0,892.0 L653.8,864.6 L654.6,828.5 L655.5,783.7 L656.4,746.8 L657.3,717.7 L658.4,696.5 L659.5,683.0 L660.8,672.8 L662.4,665.6 L664.1,661.7 L666.1,660.8 L668.1,660.5 L670.2,660.6 L672.4,661.2 L674.6,662.3 L676.5,666.5 L678.1,673.6 L679.2,683.7 L680.1,696.9 L680.9,718.6 L681.7,749.0 L682.6,787.9 L683.4,835.5 L684.6,871.0 L686.0,894.5 L687.6,905.9 L689.6,905.4 L691.7,904.9 L694.1,904.6 L696.7,904.5 L699.5,904.5 L701.9,901.1 L703.8,894.4 L705.4,884.4 L706.5,870.9 L707.7,856.7 L709.0,841.6 L710.3,825.6 L711.7,808.9 L713.0,786.4 L714.1,758.1 L715.0,724.2 L715.9,684.4 L716.7,654.3 L717.6,633.7 L718.6,622.7 L719.5,621.2 L720.7,620.0 L722.1,619.1 L723.7,618.5 L725.6,618.2 L727.3,618.0 L729.1,618.0 L730.8,618.2 L732.5,618.5 L733.9,619.1 L735.0,620.0 L735.8,621.2 L736.4,622.7 L737.0,627.6 L737.7,635.9 L738.5,647.5 L739.3,662.6 L740.5,674.3 L741.9,682.4 L743.6,687.0 L745.5,688.1 L747.2,694.8 L748.6,707.1 L749.7,725.0 L750.6,748.5 L751.4,775.9 L752.2,807.2 L753.1,842.4 L753.9,881.6 L755.3,911.2 L757.1,931.4 L759.4,942.0 L762.2,943.1 L765.2,943.8 L768.4,944.0 L771.9,943.8 L775.5,943.2 L778.6,938.7 L781.0,930.5 L782.8,918.5 L783.9,902.7 L785.0,879.9 L786.1,850.1 L787.0,813.3 L787.9,769.4 L788.7,731.0 L789.4,698.0 L790.1,670.4 L790.7,648.1 L791.4,631.2 L792.1,619.6 L792.9,613.4 L793.7,612.4 L794.8,611.7 L796.1,611.0 L797.7,610.6 L799.4,610.4 L801.2,610.2 L803.0,610.2 L804.7,610.4 L806.4,610.6 L807.9,610.9 L809.2,611.2 L810.3,611.6 L811.3,611.9 L812.1,617.9 L812.8,629.5 L813.5,646.7 L814.1,669.5 L814.7,698.9 L815.3,734.8 L815.9,777.4 L816.4,826.5 L817.5,863.6 L819.1,888.7 L821.2,901.8 L823.9,903.0 L826.3,905.2 L828.5,908.4 L830.4,912.6 L832.2,917.9 L833.8,924.0 L835.2,931.1 L836.6,939.0 L837.7,947.7 L839.1,954.0 L840.5,957.8 L842.1,959.1 L843.9,958.0 L845.5,953.9 L846.9,946.8 L848.3,936.9 L849.4,924.0 L850.9,913.9 L852.7,906.6 L854.7,902.1 L857.0,900.3 L859.3,899.5 L861.7,899.5 L864.0,900.3 L866.4,902.1 L868.4,906.2 L870.2,912.6 L871.7,921.4 L872.8,932.5 L874.2,940.7 L875.6,946.0 L877.2,948.3 L879.0,947.7 L880.5,936.4 L881.8,914.5 L882.9,881.9 L883.8,838.7 L884.6,804.8 L885.3,780.2 L886.0,765.0 L886.5,759.2 L887.6,754.5 L889.0,751.0 L890.9,748.7 L893.3,747.5 L895.6,746.9 L898.0,746.9 L900.3,747.5 L902.6,748.7 L904.6,755.4 L906.2,767.7 L907.4,785.5 L908.3,808.9 L909.0,833.7 L909.6,859.9 L910.1,887.5 L910.5,916.5 L910.9,939.3 L911.4,955.9 L912.0,966.3 L912.6,970.5 L913.3,973.8 L914.0,976.1 L914.7,977.5 L915.4,978.0 L916.2,976.8 L917.0,973.9 L917.9,969.3 L918.9,963.1 L919.9,958.3 L921.1,954.9 L922.5,953.0 L923.9,952.5 L925.7,952.2 L927.9,951.9 L930.4,951.8 L933.3,951.8 L935.7,951.3 L937.6,950.2 L939.0,948.6 L940.0,946.4 L941.2,944.7 L942.6,943.4 L944.3,942.5 L946.2,942.0 L948.1,941.8 L950.1,941.9 L952.0,942.3 L953.9,943.1 L955.6,944.4 L957.0,946.5 L958.2,949.2 L959.2,952.5 L960.0,956.7 L960.7,961.6 L961.3,967.3 L961.8,973.8 L962.5,978.6 L963.5,981.7 L964.7,983.1 L966.1,982.9 L967.4,982.3 L968.6,981.3 L969.7,980.0 L970.7,978.3 L971.9,976.9 L973.5,975.7 L975.4,974.7 L977.5,974.0 L979.8,973.6 L982.1,973.6 L984.4,974.0 L986.8,974.7 L988.9,976.2 L990.7,978.3 L992.2,981.2 L993.4,984.8 L994.6,987.6 L995.8,989.7 L997.0,990.9 L998.2,991.4 L999.3,990.5 L1000.4,988.4 L1001.4,984.9 L1002.4,980.1 L1003.6,976.3 L1005.2,973.6 L1007.0,971.9 L1009.2,971.1 L1011.3,970.9 L1013.3,971.0 L1015.3,971.5 L1017.2,972.5 L1019.5,973.2 L1022.2,973.8 L1025.2,974.3 L1028.5,974.5 L1031.5,975.0 L1034.2,975.7 L1036.5,976.7 L1038.4,977.9 L1040.0,979.3 L1041.5,981.0 L1042.7,982.9 L1043.6,985.1 L1044.7,984.8 L1045.8,982.0 L1046.9,976.8 L1048.1,969.1 L1049.5,963.1 L1051.0,958.8 L1052.8,956.1 L1054.7,955.2 L1056.2,954.4 L1057.3,953.8 L1058.1,953.5 L1058.6,953.3 L1059.5,953.5 L1060.9,954.0 L1062.8,954.9 L1065.2,956.1 L1067.3,957.7 L1069.1,959.7 L1070.6,962.1 L1071.8,964.9 L1073.6,967.3 L1076.0,969.3 L1079.0,970.9 L1082.6,972.1 L1085.6,973.7 L1088.0,975.7 L1089.8,978.1 L1091.0,980.9 L1092.6,982.9 L1094.6,984.1 L1097.0,984.5 L1099.8,984.1 L1102.2,982.2 L1104.2,978.8 L1105.8,973.9 L1107.0,967.5 L1108.6,962.4 L1110.6,958.6 L1113.0,956.1 L1115.8,954.9 L1118.5,954.3 L1121.1,954.3 L1123.6,954.9 L1126.0,956.1 L1128.2,958.2 L1130.2,961.2 L1132.0,965.1 L1133.6,969.9 L1135.3,974.7 L1137.1,979.5 L1139.0,984.3 L1141.0,989.1 L1143.8,992.9 L1147.4,995.7 L1151.8,997.5 L1156.9,998.3 L1161.3,999.2 L1164.9,1000.2 L1167.7,1001.3 L1169.7,1002.5 L1171.5,1001.7 L1173.1,998.9 L1174.5,994.1 L1175.7,987.3 L1177.3,981.8 L1179.3,977.6 L1181.7,974.7 L1184.5,973.1 L1187.7,972.1 L1191.3,971.7 L1195.3,971.9 L1199.7,972.7 L1203.5,973.6 L1206.7,974.6 L1209.3,975.7 L1211.3,976.9 L1213.1,979.4 L1214.7,983.2 L1216.1,988.3 L1217.3,994.7 L1219.3,999.3 L1222.1,1002.1 L1225.7,1003.1 L1230.1,1002.3 L1233.8,1000.2 L1236.8,996.8 L1239.1,992.1 L1240.7,986.1 L1242.4,981.4 L1244.2,978.0 L1246.1,975.9 L1248.1,975.1 L1250.2,974.8 L1252.4,975.0 L1254.7,975.7 L1257.1,976.9 L1259.2,979.7 L1261.0,984.1 L1262.5,990.1 L1263.7,997.7 L1265.8,1003.2 L1268.8,1006.6 L1272.7,1007.9 L1277.5,1007.1 L1281.7,1004.2 L1285.3,999.2 L1288.3,992.1 L1290.7,982.9 L1292.8,974.8 L1294.6,967.8 L1296.1,961.9 L1297.3,957.2 L1298.8,953.5 L1300.6,950.9 L1302.7,949.4 L1305.1,948.9 L1307.5,949.0 L1309.9,949.6 L1312.3,950.7 L1314.7,952.3 L1316.7,954.7 L1318.3,957.9 L1319.5,961.9 L1320.3,966.7 L1321.2,972.2 L1322.2,978.4 L1323.3,985.3 L1324.5,992.9 L1325.5,998.6 L1326.3,1002.3 L1326.9,1004.2 L1327.4,1004.1 L1328.1,1002.8 L1329.1,1000.1 L1330.4,996.2 L1332.0,991.0 L1333.8,987.0 L1335.8,984.1 L1338.0,982.3 L1340.4,981.7 L1342.7,981.4 L1344.9,981.4 L1347.0,981.7 L1349.0,982.3 L1350.8,983.5 L1352.4,985.2 L1353.8,987.4 L1355.0,990.2 L1356.4,992.5 L1358.0,994.3 L1359.8,995.6 L1361.8,996.4 L1363.8,997.7 L1365.8,999.5 L1367.8,1001.8 L1369.8,1004.5 L1371.8,1006.7 L1373.8,1008.3 L1375.8,1009.3 L1377.8,1009.7 L1379.6,1009.2 L1381.2,1007.8 L1382.6,1005.5 L1383.8,1002.4 L1385.6,999.9 L1388.0,998.1 L1391.0,997.0 L1394.6,996.6 L1397.6,996.7 L1400.0,997.3 L1401.8,998.4 L1403.0,1000.0 L1404.2,1000.6 L1405.4,1000.2 L1406.6,998.8 L1407.8,996.4 L1409.3,994.4 L1411.1,992.9 L1413.2,991.9 L1415.6,991.3 L1417.8,991.1 L1419.8,991.3 L1421.6,991.9 L1423.1,992.9 L1424.6,994.0 L1426.0,995.4 L1427.3,996.8 L1428.5,998.4 L1429.7,999.3 L1430.9,999.5 L1432.1,999.0 L1433.3,997.8 L1435.0,996.9 L1437.2,996.1 L1439.9,995.7 L1443.1,995.5 L1445.9,995.8 L1448.3,996.6 L1450.3,997.9 L1451.9,999.7 L1453.3,1001.7 L1454.5,1004.0 L1455.5,1006.6 L1456.3,1009.3 L1457.1,1010.3 L1457.9,1009.5 L1458.7,1006.9 L1459.5,1002.6 L1460.7,999.2 L1462.3,996.9 L1464.3,995.7 L1466.7,995.5 L1469.0,995.4 L1471.2,995.4 L1473.3,995.5 L1475.3,995.7 L1477.2,996.7 L1479.0,998.6 L1480.7,1001.4 L1482.3,1004.9 L1484.2,1007.7 L1486.4,1009.7 L1488.9,1010.9 L1491.7,1011.3 L1494.8,1011.8 L1498.2,1012.4 L1501.9,1013.1 L1505.9,1013.9 L1509.4,1013.9 L1512.4,1013.1 L1514.9,1011.5 L1516.9,1009.2 L1519.1,1007.0 L1521.5,1005.1 L1524.1,1003.5 L1526.9,1002.0 L1529.6,1001.3 L1532.2,1001.3 L1534.7,1002.0 L1537.1,1003.5 L1539.3,1005.0 L1541.3,1006.7 L1543.1,1008.6 L1544.7,1010.5 L1546.7,1011.9 L1549.1,1012.7 L1551.9,1012.9 L1555.1,1012.5 L1558.4,1012.1 L1561.8,1011.7 L1565.3,1011.3 L1568.9,1010.9 L1572.0,1010.2 L1574.6,1009.1 L1576.7,1007.6 L1578.3,1005.9 L1580.2,1004.5 L1582.4,1003.6 L1584.9,1003.2 L1587.7,1003.2 L1590.3,1003.5 L1592.7,1004.2 L1594.9,1005.3 L1596.9,1006.6 L1598.9,1007.9 L1600.9,1009.0 L1602.9,1009.9 L1604.9,1010.7 L1606.8,1010.4 L1608.6,1009.0 L1610.2,1006.5 L1611.8,1002.8 L1613.5,1000.0 L1615.4,997.8 L1617.4,996.4 L1619.6,995.8 L1621.8,995.4 L1624.0,995.4 L1626.2,995.8 L1628.4,996.4 L1630.4,997.6 L1632.1,999.2 L1633.7,1001.4 L1635.0,1004.0 L1636.5,1005.7 L1638.2,1006.3 L1640.2,1006.0 L1642.4,1004.7 L1645.0,1003.6 L1648.1,1002.7 L1651.7,1002.0 L1655.6,1001.6 L1658.9,1000.4 L1661.6,998.4 L1663.5,995.6 L1664.8,992.1 L1666.4,989.3 L1668.1,987.2 L1670.1,985.8 L1672.3,985.2 L1674.5,984.9 L1676.7,985.0 L1678.9,985.5 L1681.1,986.4 L1683.2,989.0 L1685.2,993.3 L1687.1,999.2 L1688.8,1006.9 L1690.9,1012.7 L1693.4,1016.6 L1696.1,1018.5 L1699.2,1018.5 L1702.0,1018.2 L1704.7,1017.5 L1707.1,1016.5 L1709.3,1015.2 L1711.6,1014.1 L1714.0,1013.2 L1716.5,1012.6 L1719.2,1012.1 L1721.7,1012.4 L1724.1,1013.4 L1726.4,1015.1 L1728.6,1017.5 L1730.8,1019.3 L1733.0,1020.5 L1735.2,1021.1 L1737.4,1021.1 L1739.8,1020.2 L1742.5,1018.3 L1745.3,1015.5 L1748.4,1011.8 L1751.1,1008.8 L1753.6,1006.6 L1755.7,1005.2 L1757.4,1004.6 L1759.3,1004.4 L1761.3,1004.6 L1763.4,1005.3 L1765.6,1006.3 L1767.9,1008.0 L1770.3,1010.4 L1772.8,1013.2 L1775.5,1016.8 L1778.3,1019.4 L1781.4,1021.1 L1784.7,1022.0 L1788.2,1022.0 L1792.0,1021.9 L1795.9,1021.7 L1800.1,1021.4 L1804.5,1020.9 L1808.3,1020.3 L1811.6,1019.6 L1814.4,1018.6 L1816.6,1017.5 L1819.0,1016.7 L1821.7,1016.2 L1824.5,1015.9 L1827.6,1015.9 L1830.4,1016.3 L1833.1,1017.0 L1835.5,1018.2 L1837.7,1019.7 L1840.4,1020.8 L1843.8,1021.4 L1847.6,1021.7 L1852.0,1021.4 L1855.8,1021.1 L1859.1,1020.5 L1861.9,1019.8 L1864.1,1018.9 L1866.4,1018.3 L1868.8,1018.0 L1871.3,1017.9 L1874.0,1018.2 L1876.6,1018.8 L1879.2,1019.8 L1881.9,1021.1 L1884.5,1022.9 L1887.2,1024.5 L1889.8,1025.9 L1892.4,1027.2 L1895.1,1028.2 L1897.6,1028.6 L1900.0,1028.1 L1902.3,1026.9 L1904.5,1025.0 L1907.0,1023.4 L1909.9,1022.3 L1913.1,1021.7 L1916.7,1021.4 L1919.5,1021.3 L1921.7,1021.3 L1923.1,1021.4 L1923.9,1021.7 L1924.4,1021.8 L1924.8,1021.9 L1925.0,1022.0 L1925.0,1049.0 L1924.8,1049.1 L1924.4,1049.2 L1923.9,1049.4 L1923.1,1049.8 L1920.7,1050.0 L1916.6,1050.1 L1910.8,1050.2 L1903.2,1050.2 L1896.4,1049.7 L1890.2,1048.5 L1884.7,1046.9 L1879.9,1044.7 L1875.1,1043.2 L1870.5,1042.3 L1866.0,1042.0 L1861.6,1042.5 L1856.7,1042.6 L1851.2,1042.5 L1845.1,1042.1 L1838.6,1041.5 L1832.5,1041.2 L1827.0,1041.3 L1822.1,1041.8 L1817.7,1042.7 L1812.7,1043.5 L1807.2,1044.1 L1801.2,1044.7 L1794.6,1045.1 L1788.2,1044.7 L1782.1,1043.5 L1776.1,1041.5 L1770.4,1038.6 L1765.3,1036.8 L1760.9,1036.0 L1757.2,1036.3 L1754.1,1037.6 L1750.7,1038.8 L1747.0,1039.9 L1742.9,1040.9 L1738.5,1041.8 L1733.8,1042.2 L1728.7,1042.2 L1723.3,1041.8 L1717.7,1040.9 L1712.1,1040.3 L1706.6,1039.8 L1701.2,1039.6 L1695.9,1039.6 L1690.9,1038.8 L1686.0,1037.3 L1681.4,1035.0 L1677.0,1031.9 L1672.6,1029.6 L1668.2,1028.1 L1663.8,1027.3 L1659.4,1027.3 L1655.0,1028.1 L1650.6,1029.6 L1646.2,1031.9 L1641.8,1035.0 L1637.4,1037.1 L1633.0,1038.2 L1628.6,1038.3 L1624.2,1037.4 L1620.3,1036.9 L1616.9,1036.9 L1614.0,1037.2 L1611.5,1038.0 L1608.2,1038.1 L1604.0,1037.6 L1598.9,1036.4 L1592.9,1034.6 L1586.4,1033.6 L1579.4,1033.4 L1571.9,1034.0 L1563.9,1035.4 L1556.4,1036.0 L1549.4,1036.0 L1542.9,1035.1 L1536.9,1033.5 L1530.9,1032.6 L1524.9,1032.5 L1518.9,1033.2 L1512.9,1034.6 L1506.4,1035.4 L1499.4,1035.5 L1491.9,1034.9 L1483.9,1033.7 L1476.9,1033.1 L1470.9,1033.1 L1465.9,1033.7 L1461.9,1034.9 L1457.4,1035.8 L1452.4,1036.2 L1446.9,1036.4 L1441.0,1036.2 L1435.3,1035.6 L1429.9,1034.6 L1424.8,1033.2 L1420.0,1031.4 L1415.6,1030.3 L1411.6,1029.9 L1408.0,1030.2 L1404.8,1031.2 L1400.7,1032.2 L1395.7,1033.4 L1389.8,1034.5 L1383.0,1035.7 L1377.1,1035.9 L1372.1,1035.1 L1368.0,1033.3 L1364.8,1030.5 L1361.4,1028.2 L1357.8,1026.4 L1354.0,1025.1 L1350.0,1024.3 L1346.5,1024.0 L1343.5,1024.2 L1341.0,1024.9 L1339.0,1026.1 L1336.6,1027.2 L1333.8,1028.3 L1330.6,1029.2 L1326.9,1030.2 L1323.4,1030.2 L1320.0,1029.5 L1316.7,1027.9 L1313.5,1025.5 L1310.3,1024.1 L1307.1,1023.7 L1303.9,1024.3 L1300.7,1025.9 L1296.8,1027.5 L1292.2,1029.1 L1286.9,1030.7 L1280.9,1032.3 L1274.7,1032.7 L1268.3,1031.9 L1261.7,1029.9 L1254.9,1026.7 L1248.0,1024.7 L1241.0,1023.9 L1233.9,1024.3 L1226.7,1025.9 L1219.8,1026.6 L1213.2,1026.4 L1206.9,1025.3 L1200.9,1023.3 L1195.9,1022.0 L1191.9,1021.4 L1188.9,1021.5 L1187.0,1022.3 L1184.0,1023.0 L1180.0,1023.6 L1175.0,1024.1 L1169.0,1024.5 L1163.0,1024.4 L1157.0,1023.8 L1151.0,1022.7 L1145.0,1021.1 L1139.9,1019.1 L1135.7,1016.7 L1132.4,1013.9 L1130.0,1010.7 L1127.8,1008.8 L1125.8,1008.2 L1124.0,1008.9 L1122.4,1010.9 L1119.5,1012.6 L1115.3,1014.0 L1109.8,1015.1 L1103.0,1015.9 L1097.1,1016.1 L1092.1,1015.7 L1088.0,1014.7 L1084.8,1013.1 L1080.9,1012.1 L1076.3,1011.7 L1071.0,1011.9 L1065.0,1012.7 L1060.2,1013.3 L1056.5,1013.8 L1054.1,1014.0 L1052.8,1014.1 L1051.3,1014.6 L1049.7,1015.4 L1047.9,1016.7 L1046.0,1018.4 L1043.8,1019.6 L1041.4,1020.5 L1038.8,1020.9 L1035.9,1020.9 L1033.5,1020.3 L1031.4,1019.1 L1029.8,1017.3 L1028.6,1014.9 L1026.8,1013.1 L1024.4,1011.9 L1021.4,1011.3 L1017.8,1011.3 L1014.7,1011.7 L1012.2,1012.6 L1010.3,1013.8 L1008.8,1015.5 L1007.1,1016.7 L1004.9,1017.6 L1002.4,1018.0 L999.5,1018.0 L996.5,1017.8 L993.2,1017.5 L989.8,1016.9 L986.2,1016.2 L983.2,1015.5 L980.8,1014.8 L979.0,1014.1 L977.8,1013.4 L975.5,1012.8 L972.0,1012.5 L967.3,1012.3 L961.6,1012.3 L956.9,1011.8 L953.3,1010.7 L950.8,1009.0 L949.3,1006.9 L947.1,1005.1 L944.0,1003.6 L940.0,1002.6 L935.2,1001.8 L930.4,1001.3 L925.6,1001.0 L920.8,1000.8 L916.0,1000.8 L912.1,1000.6 L909.1,1000.1 L907.0,999.3 L905.8,998.4 L904.5,997.2 L903.0,995.7 L901.5,994.0 L899.8,992.1 L897.5,990.7 L894.5,989.8 L890.8,989.3 L886.5,989.3 L882.3,989.1 L878.3,988.8 L874.4,988.3 L870.8,987.6 L867.2,986.7 L863.9,985.5 L860.8,984.0 L857.9,982.2 L854.7,981.5 L851.2,981.8 L847.4,983.1 L843.3,985.4 L838.9,985.8 L834.3,984.4 L829.3,981.0 L824.0,975.8 L819.0,971.2 L814.3,967.4 L810.0,964.4 L805.9,962.0 L801.2,961.3 L795.9,962.2 L790.1,964.7 L783.6,968.7 L778.6,971.6 L775.0,973.3 L772.8,973.7 L772.0,972.8 L769.7,971.7 L766.0,970.1 L760.8,968.3 L754.1,966.0 L748.6,962.7 L744.4,958.2 L741.5,952.6 L739.8,945.9 L738.1,937.8 L736.5,928.3 L734.8,917.3 L733.1,905.1 L731.3,898.9 L729.3,898.9 L727.2,905.1 L725.0,917.3 L722.9,928.0 L720.9,936.9 L719.1,944.2 L717.4,949.8 L713.8,954.7 L708.2,958.9 L700.6,962.4 L691.1,965.2 L683.5,966.3 L677.6,965.8 L673.5,963.5 L671.3,959.6 L669.0,957.5 L666.8,957.2 L664.6,958.8 L662.3,962.1 L659.3,965.1 L655.4,967.6 L650.6,969.7 L645.0,971.4 L639.4,971.9 L633.8,971.4 L628.2,969.7 L622.6,966.9 L617.0,964.5 L611.4,962.6 L605.8,961.0 L600.3,959.9 L595.4,959.9 L591.2,961.0 L587.7,963.2 L584.9,966.6 L580.7,969.6 L575.1,972.5 L568.1,975.0 L559.7,977.2 L551.7,978.2 L544.2,977.9 L537.1,976.4 L530.4,973.6 L523.9,972.2 L517.8,972.2 L511.9,973.6 L506.3,976.4 L501.2,977.4 L496.7,976.5 L492.7,973.9 L489.3,969.4 L485.7,966.5 L482.0,965.1 L478.2,965.2 L474.3,966.9 L469.3,967.7 L463.2,967.7 L455.9,966.9 L447.5,965.2 L439.8,963.3 L432.8,961.0 L426.5,958.5 L420.9,955.7 L416.3,952.1 L412.6,947.6 L410.0,942.3 L408.3,936.1 L406.5,932.1 L404.6,930.1 L402.5,930.2 L400.2,932.5 L397.4,934.1 L394.1,935.2 L390.2,935.8 L385.7,935.8 L381.2,935.2 L376.8,934.1 L372.3,932.5 L367.8,930.2 L364.2,926.6 L361.4,921.6 L359.4,915.2 L358.3,907.3 L357.2,901.7 L356.0,898.4 L354.9,897.3 L353.8,898.3 L351.3,899.5 L347.4,900.6 L342.1,901.7 L335.4,902.8 L329.1,902.8 L323.2,901.7 L317.7,899.5 L312.7,896.1 L308.2,892.5 L304.3,888.6 L300.9,884.4 L298.2,879.9 L295.8,874.5 L293.9,868.0 L292.3,860.6 L291.2,852.2 L290.1,843.9 L288.9,835.8 L287.8,827.9 L286.7,820.0 L284.7,814.3 L281.9,810.7 L278.3,809.2 L273.8,809.7 L269.1,808.6 L264.0,805.8 L258.7,801.4 L253.1,795.2 L247.9,788.4 L243.2,780.8 L238.8,772.6 L234.9,763.6 L231.2,756.2 L227.6,750.3 L224.1,746.0 L220.7,743.2 L218.1,741.1 L216.2,739.7 L215.1,739.0 L214.6,739.0 L214.3,739.0 L214.1,739.0 L214.0,739.0 Z" fill="#ff0000"/>
</g>
<g class="dv" fill="#000">
<text transform="translate(283.94,279.30) scale(0.857,1)" font-size="92.46">Z</text>
<text transform="translate(356.44,399.60) scale(0.867,1)" font-size="91.36">Z</text>
<text transform="translate(414.44,465.20) scale(0.858,1)" font-size="92.32">Z</text>
<text transform="translate(505.03,493.20) scale(0.850,1)" font-size="90.81">Z</text>
<text transform="translate(646.27,421.90) scale(0.878,1)" font-size="89.30">Z</text>
<text transform="translate(708.06,265.30) scale(0.840,1)" font-size="93.55">Z</text>
<text transform="translate(795.03,279.70) scale(0.842,1)" font-size="94.24">Z</text>
<text transform="translate(873.37,163.60) scale(0.832,1)" font-size="91.63">Z</text>
<text transform="translate(980.19,345.80) scale(0.845,1)" font-size="92.46">Z</text>
<text transform="translate(1216.49,544.40) scale(0.836,1)" font-size="93.28">Z</text>
<text transform="translate(1454.10,537.20) scale(0.820,1)" font-size="92.18">Z</text>
<text transform="translate(266.06,595.10) scale(0.845,1)" font-size="93.00">Z</text>
<text transform="translate(338.58,714.40) scale(0.823,1)" font-size="92.18">Z</text>
<text transform="translate(390.01,780.40) scale(0.841,1)" font-size="92.18">Z</text>
<text transform="translate(470.03,845.20) scale(0.838,1)" font-size="92.04">Z</text>
<text transform="translate(585.01,764.70) scale(0.842,1)" font-size="92.04">Z</text>
<text transform="translate(635.47,646.10) scale(0.833,1)" font-size="88.89">Z</text>
<text transform="translate(700.98,609.20) scale(0.799,1)" font-size="92.46">Z</text>
<text transform="translate(777.63,595.10) scale(0.830,1)" font-size="93.00">Z</text>
<text transform="translate(874.71,739.90) scale(0.811,1)" font-size="93.00">Z</text>
<text transform="translate(1270.79,928.40) scale(0.837,1)" font-size="93.28">Z</text>
<text transform="translate(398.40,1311.90) scale(0.789,1)" font-size="86.69">K</text>
<text transform="translate(719.28,1320.40) scale(0.818,1)" font-size="93.28">K</text>
<text transform="translate(611.02,1588.40) scale(0.747,1)" font-size="88.48">K</text>
<text transform="translate(768.73,1518.33) scale(1.087,1)" font-size="84.01">Q</text>
<text transform="translate(998.16,1585.90) scale(0.810,1)" font-size="85.05">K</text>
<text transform="translate(1253.01,1624.80) scale(0.773,1)" font-size="85.60">K</text>
</g>
<g class="dv" font-size="81.6" fill="#000">
<text transform="translate(276.9,1883.7) scale(0.951,1)">10</text>
<text transform="translate(540.5,1883.7) scale(0.951,1)">20</text>
<text transform="translate(805.7,1883.7) scale(0.951,1)">30</text>
<text transform="translate(1068.3,1883.7) scale(0.951,1)">40</text>
<text transform="translate(1334.5,1883.7) scale(0.951,1)">50</text>
<text transform="translate(1597.2,1883.7) scale(0.951,1)">60</text>
<text transform="translate(1861.3,1883.7) scale(0.951,1)">70</text>
</g>
<text class="ls" transform="translate(559,2035) scale(1.024,1)" font-size="138" fill="#000">2 Theta (degree)</text>
<text class="ls" font-size="160" fill="#000" transform="translate(131,1337) rotate(-90) scale(0.906,1)" x="-11.2" y="0">Intensity (a.u)</text>
<g class="ls" font-size="83.5" fill="#000">
<text transform="translate(1229.3,387) scale(1.017,1)">D. DH.ZA zeolite</text>
<text transform="translate(1259.8,790.6) scale(1.017,1)">C. H.ZA zeolite</text>
<text transform="translate(1230.4,1159.6) scale(1.017,1)">B. Metakaolinite</text>
<text transform="translate(1384,1553.9) scale(1.017,1)">A. Kaolinite</text>
</g>
<rect x="1416" y="50" width="437.5" height="206" fill="#fff" stroke="#000" stroke-width="5"/>
<g class="ls" font-size="54.5" fill="#000">
<text transform="translate(1432.7,109.7) scale(1.045,1)">Q</text><text transform="translate(1520.8,109.7) scale(1.045,1)">:</text><text transform="translate(1558.1,109.7) scale(1.045,1)">Quartz</text>
<text transform="translate(1432.3,174) scale(1.045,1)">K</text><text transform="translate(1519.6,174) scale(1.045,1)">:</text><text transform="translate(1553.4,174) scale(1.045,1)">Kaolinite</text>
<text transform="translate(1432.1,236.7) scale(1.045,1)">Z</text><text transform="translate(1514.1,236.7) scale(1.045,1)">:</text><text transform="translate(1547.3,236.7) scale(1.045,1)">Zeolite-A</text>
</g>
</svg>
</body></html>
